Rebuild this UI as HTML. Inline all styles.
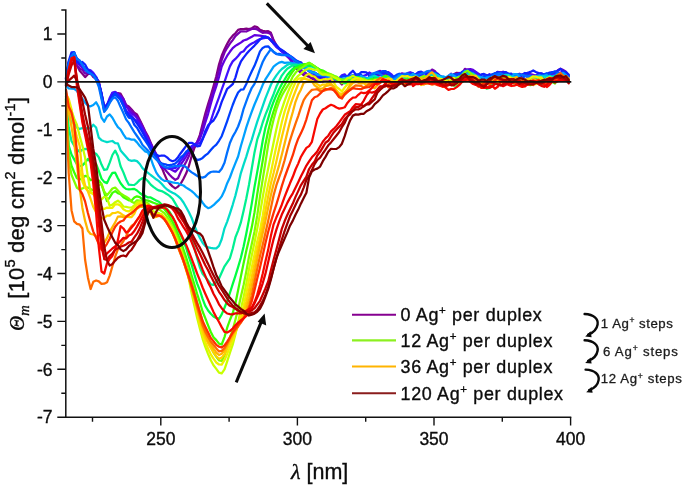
<!DOCTYPE html>
<html><head><meta charset="utf-8"><title>CD spectra</title>
<style>
html,body{margin:0;padding:0;background:#fff;}
body{width:685px;height:487px;overflow:hidden;}
svg{display:block;filter:blur(0.6px);}
text{font-family:"Liberation Sans",Arial,sans-serif;fill:#0c0c0c;stroke:#0c0c0c;stroke-width:0.35px;}
.tk text{font-size:17.5px;}
.cv path{fill:none;stroke-width:2.25;stroke-linejoin:round;stroke-linecap:round;}
.lg text{font-size:17.9px;letter-spacing:0.68px;}
.st text{font-size:13.2px;fill:#1c1c1c;stroke:#1c1c1c;stroke-width:0.3px;}
.ser{font-family:"Liberation Serif","DejaVu Serif",serif;font-style:italic;}
</style></head><body>
<svg width="685" height="487" viewBox="0 0 685 487">
<rect width="685" height="487" fill="#fff"/>
<g class="cv">
<path d="M66.0 79.9 L68.7 67.4 L71.5 60.8 L74.2 59.5 L76.9 65.3 L79.7 70.8 L82.4 73.8 L85.1 77.1 L87.9 74.3 L90.6 73.3 L93.3 77.0 L96.1 78.8 L98.8 81.4 L101.5 94.2 L104.2 106.0 L107.0 105.5 L109.7 101.8 L112.4 95.7 L115.2 93.8 L117.9 93.2 L120.6 93.7 L123.4 98.8 L126.1 104.9 L128.8 106.4 L131.6 109.4 L134.3 112.7 L137.0 114.4 L139.8 119.9 L142.5 125.6 L145.2 131.3 L148.0 136.3 L150.7 142.6 L153.4 149.1 L156.2 154.8 L158.9 160.5 L161.6 167.1 L164.4 174.1 L167.1 180.1 L169.8 183.6 L172.5 186.4 L175.3 188.4 L178.0 186.6 L180.7 183.7 L183.5 178.7 L186.2 173.3 L188.9 165.9 L191.7 156.0 L194.4 148.0 L197.1 142.4 L199.9 134.8 L202.6 124.0 L205.3 113.6 L208.1 104.1 L210.8 95.5 L213.5 86.3 L216.3 76.3 L219.0 64.6 L221.7 55.8 L224.5 49.3 L227.2 43.8 L229.9 39.1 L232.7 35.7 L235.4 33.3 L238.1 29.9 L240.8 29.1 L243.6 29.0 L246.3 28.6 L249.0 29.1 L251.8 28.2 L254.5 26.4 L257.2 27.1 L260.0 29.7 L262.7 30.8 L265.4 31.3 L268.2 31.1 L270.9 32.8 L273.6 40.1 L276.4 45.1 L279.1 48.6 L281.8 50.8 L284.6 52.0 L287.3 55.1 L290.0 58.7 L292.8 63.5 L295.5 67.7 L298.2 70.1 L301.0 73.0 L303.7 75.1 L306.4 75.9 L309.1 76.8 L311.9 78.5 L314.6 79.9 L317.3 81.1 L320.1 81.7 L322.8 81.2 L325.5 81.0 L328.3 80.9 L331.0 80.2 L333.7 79.2 L336.5 79.3 L339.2 81.3 L341.9 84.5 L344.7 81.1 L347.4 78.4 L350.1 76.3 L352.9 75.5 L355.6 75.1 L358.3 75.5 L361.1 79.7 L363.8 81.4 L366.5 79.9 L369.3 78.6 L372.0 78.5 L374.7 77.4 L377.4 76.3 L380.2 74.0 L382.9 73.3 L385.6 74.0 L388.4 75.5 L391.1 77.2 L393.8 79.5 L396.6 82.3 L399.3 78.2 L402.0 75.4 L404.8 74.3 L407.5 75.2 L410.2 75.5 L413.0 75.3 L415.7 75.9 L418.4 75.6 L421.2 75.9 L423.9 76.8 L426.6 76.7 L429.4 77.0 L432.1 75.8 L434.8 76.9 L437.6 78.5 L440.3 77.4 L443.0 78.4 L445.7 79.9 L448.5 78.5 L451.2 76.2 L453.9 74.3 L456.7 72.8 L459.4 73.0 L462.1 73.9 L464.9 73.1 L467.6 71.0 L470.3 70.1 L473.1 71.3 L475.8 75.1 L478.5 76.2 L481.3 77.1 L484.0 80.5 L486.7 80.5 L489.5 79.1 L492.2 77.2 L494.9 74.5 L497.7 72.0 L500.4 72.4 L503.1 73.4 L505.9 75.4 L508.6 78.7 L511.3 78.7 L514.0 76.8 L516.8 78.7 L519.5 77.7 L522.2 75.1 L525.0 75.6 L527.7 76.9 L530.4 79.1 L533.2 79.1 L535.9 78.7 L538.6 76.9 L541.4 77.3 L544.1 78.8 L546.8 79.5 L549.6 78.2 L552.3 76.8 L555.0 74.8 L557.8 73.2 L560.5 75.8 L563.2 76.1 L566.0 78.3 L568.7 75.6" stroke="#800080"/>
<path d="M66.0 78.9 L68.7 65.5 L71.5 58.3 L74.2 57.0 L76.9 65.8 L79.7 68.6 L82.4 69.9 L85.1 73.7 L87.9 72.9 L90.6 72.9 L93.3 74.7 L96.1 79.5 L98.8 83.8 L101.5 94.1 L104.2 108.5 L107.0 106.8 L109.7 100.5 L112.4 94.9 L115.2 93.5 L117.9 93.9 L120.6 96.2 L123.4 101.5 L126.1 106.7 L128.8 107.7 L131.6 110.5 L134.3 113.8 L137.0 116.8 L139.8 121.0 L142.5 126.5 L145.2 132.2 L148.0 138.0 L150.7 143.6 L153.4 148.8 L156.2 154.0 L158.9 160.3 L161.6 164.8 L164.4 168.8 L167.1 172.0 L169.8 175.0 L172.5 177.7 L175.3 179.9 L178.0 178.2 L180.7 172.0 L183.5 166.6 L186.2 161.8 L188.9 156.1 L191.7 149.4 L194.4 145.6 L197.1 142.1 L199.9 137.1 L202.6 127.4 L205.3 117.3 L208.1 107.5 L210.8 98.1 L213.5 90.0 L216.3 80.6 L219.0 70.3 L221.7 60.0 L224.5 52.5 L227.2 47.8 L229.9 43.6 L232.7 40.1 L235.4 36.2 L238.1 33.7 L240.8 31.4 L243.6 31.3 L246.3 31.5 L249.0 30.3 L251.8 29.0 L254.5 28.6 L257.2 29.4 L260.0 31.3 L262.7 32.8 L265.4 32.5 L268.2 32.8 L270.9 34.2 L273.6 41.4 L276.4 46.2 L279.1 48.9 L281.8 51.2 L284.6 53.3 L287.3 56.5 L290.0 59.1 L292.8 63.9 L295.5 66.8 L298.2 69.7 L301.0 72.8 L303.7 74.0 L306.4 74.4 L309.1 75.1 L311.9 77.1 L314.6 79.2 L317.3 78.9 L320.1 79.3 L322.8 81.5 L325.5 80.1 L328.3 79.6 L331.0 79.3 L333.7 79.6 L336.5 79.1 L339.2 79.4 L341.9 79.4 L344.7 80.8 L347.4 80.2 L350.1 77.8 L352.9 78.4 L355.6 76.5 L358.3 75.7 L361.1 79.5 L363.8 82.0 L366.5 80.7 L369.3 76.7 L372.0 74.6 L374.7 75.1 L377.4 75.4 L380.2 74.8 L382.9 75.0 L385.6 75.4 L388.4 76.6 L391.1 80.5 L393.8 80.9 L396.6 78.0 L399.3 75.5 L402.0 75.7 L404.8 76.4 L407.5 75.4 L410.2 73.3 L413.0 74.5 L415.7 76.9 L418.4 76.8 L421.2 75.7 L423.9 76.3 L426.6 75.8 L429.4 72.4 L432.1 69.6 L434.8 71.0 L437.6 74.6 L440.3 79.9 L443.0 81.3 L445.7 80.3 L448.5 78.6 L451.2 76.4 L453.9 76.6 L456.7 78.7 L459.4 78.4 L462.1 73.3 L464.9 68.8 L467.6 70.0 L470.3 74.8 L473.1 75.2 L475.8 76.3 L478.5 80.3 L481.3 80.4 L484.0 79.8 L486.7 78.5 L489.5 78.4 L492.2 79.1 L494.9 80.4 L497.7 77.3 L500.4 73.7 L503.1 71.6 L505.9 73.4 L508.6 74.8 L511.3 76.6 L514.0 80.1 L516.8 78.5 L519.5 75.8 L522.2 74.8 L525.0 73.4 L527.7 73.6 L530.4 75.5 L533.2 75.6 L535.9 76.3 L538.6 77.6 L541.4 76.7 L544.1 75.3 L546.8 76.5 L549.6 77.0 L552.3 74.2 L555.0 72.7 L557.8 70.3 L560.5 68.7 L563.2 70.1 L566.0 71.7 L568.7 76.5" stroke="#7800b0"/>
<path d="M66.0 78.4 L68.7 63.1 L71.5 56.1 L74.2 54.4 L76.9 60.6 L79.7 65.4 L82.4 67.7 L85.1 70.2 L87.9 70.7 L90.6 72.2 L93.3 76.0 L96.1 77.2 L98.8 82.4 L101.5 93.8 L104.2 109.6 L107.0 104.6 L109.7 99.9 L112.4 93.2 L115.2 91.8 L117.9 93.8 L120.6 95.9 L123.4 99.1 L126.1 105.6 L128.8 109.9 L131.6 113.2 L134.3 115.0 L137.0 117.9 L139.8 122.5 L142.5 127.1 L145.2 133.3 L148.0 138.5 L150.7 144.4 L153.4 150.2 L156.2 155.6 L158.9 162.6 L161.6 167.6 L164.4 168.2 L167.1 168.1 L169.8 168.7 L172.5 170.2 L175.3 171.7 L178.0 168.8 L180.7 164.6 L183.5 160.7 L186.2 156.5 L188.9 151.8 L191.7 147.7 L194.4 144.6 L197.1 142.9 L199.9 138.9 L202.6 131.3 L205.3 122.5 L208.1 113.8 L210.8 103.6 L213.5 94.4 L216.3 86.1 L219.0 77.0 L221.7 66.5 L224.5 60.5 L227.2 55.7 L229.9 51.8 L232.7 48.1 L235.4 45.9 L238.1 44.2 L240.8 42.6 L243.6 40.5 L246.3 39.7 L249.0 38.3 L251.8 36.8 L254.5 35.1 L257.2 35.3 L260.0 35.7 L262.7 36.2 L265.4 36.7 L268.2 37.5 L270.9 40.6 L273.6 43.5 L276.4 46.3 L279.1 48.7 L281.8 51.2 L284.6 53.3 L287.3 56.4 L290.0 58.6 L292.8 62.6 L295.5 65.0 L298.2 68.0 L301.0 69.9 L303.7 71.4 L306.4 73.7 L309.1 74.7 L311.9 75.3 L314.6 75.7 L317.3 77.6 L320.1 79.8 L322.8 80.4 L325.5 78.6 L328.3 78.3 L331.0 78.9 L333.7 77.9 L336.5 77.4 L339.2 79.4 L341.9 82.3 L344.7 80.6 L347.4 77.8 L350.1 77.5 L352.9 76.9 L355.6 77.6 L358.3 76.7 L361.1 78.4 L363.8 79.6 L366.5 78.5 L369.3 77.5 L372.0 75.9 L374.7 74.4 L377.4 71.7 L380.2 70.8 L382.9 72.9 L385.6 72.9 L388.4 74.0 L391.1 77.4 L393.8 77.4 L396.6 76.3 L399.3 74.5 L402.0 73.4 L404.8 74.1 L407.5 74.8 L410.2 76.4 L413.0 76.0 L415.7 74.0 L418.4 73.0 L421.2 74.2 L423.9 77.1 L426.6 76.2 L429.4 72.9 L432.1 71.3 L434.8 72.5 L437.6 76.4 L440.3 80.0 L443.0 79.9 L445.7 79.9 L448.5 75.8 L451.2 73.7 L453.9 76.7 L456.7 74.6 L459.4 73.0 L462.1 74.0 L464.9 72.5 L467.6 69.3 L470.3 69.1 L473.1 69.9 L475.8 71.8 L478.5 73.7 L481.3 75.9 L484.0 78.5 L486.7 78.8 L489.5 77.6 L492.2 76.1 L494.9 75.1 L497.7 71.8 L500.4 72.7 L503.1 72.5 L505.9 72.4 L508.6 74.5 L511.3 76.1 L514.0 75.0 L516.8 74.6 L519.5 73.7 L522.2 74.9 L525.0 74.1 L527.7 72.8 L530.4 74.1 L533.2 74.9 L535.9 75.9 L538.6 77.6 L541.4 76.1 L544.1 74.3 L546.8 74.3 L549.6 74.6 L552.3 75.0 L555.0 74.2 L557.8 73.3 L560.5 73.1 L563.2 75.1 L566.0 76.8 L568.7 78.6" stroke="#6000e0"/>
<path d="M66.0 79.0 L68.7 62.3 L71.5 56.1 L74.2 53.0 L76.9 60.0 L79.7 63.5 L82.4 66.3 L85.1 68.0 L87.9 69.5 L90.6 70.3 L93.3 72.8 L96.1 76.8 L98.8 82.7 L101.5 95.4 L104.2 108.7 L107.0 105.4 L109.7 98.0 L112.4 92.6 L115.2 92.2 L117.9 94.3 L120.6 97.5 L123.4 104.0 L126.1 110.5 L128.8 112.8 L131.6 115.7 L134.3 119.1 L137.0 120.7 L139.8 124.7 L142.5 129.2 L145.2 134.3 L148.0 139.4 L150.7 145.0 L153.4 149.9 L156.2 156.0 L158.9 161.7 L161.6 164.5 L164.4 166.9 L167.1 167.9 L169.8 168.9 L172.5 168.0 L175.3 168.2 L178.0 165.0 L180.7 160.7 L183.5 157.2 L186.2 153.0 L188.9 148.7 L191.7 146.1 L194.4 144.9 L197.1 144.2 L199.9 143.0 L202.6 139.0 L205.3 133.5 L208.1 127.4 L210.8 120.9 L213.5 112.5 L216.3 104.6 L219.0 97.3 L221.7 89.5 L224.5 81.9 L227.2 73.8 L229.9 66.4 L232.7 61.4 L235.4 58.9 L238.1 56.0 L240.8 52.5 L243.6 51.2 L246.3 47.6 L249.0 45.3 L251.8 43.5 L254.5 42.2 L257.2 40.5 L260.0 39.1 L262.7 38.4 L265.4 37.9 L268.2 38.0 L270.9 39.6 L273.6 43.7 L276.4 47.0 L279.1 49.0 L281.8 51.6 L284.6 53.8 L287.3 56.0 L290.0 57.4 L292.8 59.6 L295.5 62.0 L298.2 63.8 L301.0 66.4 L303.7 67.5 L306.4 69.2 L309.1 71.4 L311.9 73.0 L314.6 74.3 L317.3 77.0 L320.1 78.1 L322.8 77.8 L325.5 76.4 L328.3 75.7 L331.0 78.6 L333.7 78.4 L336.5 78.7 L339.2 78.2 L341.9 75.4 L344.7 74.3 L347.4 77.4 L350.1 77.8 L352.9 78.7 L355.6 77.8 L358.3 77.4 L361.1 77.1 L363.8 75.8 L366.5 74.9 L369.3 72.5 L372.0 73.9 L374.7 74.2 L377.4 73.0 L380.2 72.8 L382.9 73.3 L385.6 72.3 L388.4 72.2 L391.1 74.1 L393.8 77.1 L396.6 77.9 L399.3 76.6 L402.0 75.4 L404.8 74.9 L407.5 73.1 L410.2 72.2 L413.0 73.4 L415.7 75.8 L418.4 75.8 L421.2 75.5 L423.9 72.9 L426.6 73.3 L429.4 71.6 L432.1 73.7 L434.8 76.2 L437.6 75.7 L440.3 76.0 L443.0 78.9 L445.7 79.6 L448.5 78.4 L451.2 77.2 L453.9 77.9 L456.7 78.7 L459.4 76.6 L462.1 73.6 L464.9 72.1 L467.6 72.2 L470.3 71.4 L473.1 71.1 L475.8 72.1 L478.5 75.1 L481.3 78.7 L484.0 78.2 L486.7 77.3 L489.5 74.1 L492.2 76.2 L494.9 76.1 L497.7 74.9 L500.4 72.5 L503.1 75.6 L505.9 77.0 L508.6 76.3 L511.3 76.7 L514.0 78.7 L516.8 75.2 L519.5 76.0 L522.2 78.4 L525.0 79.2 L527.7 78.9 L530.4 77.4 L533.2 76.7 L535.9 75.5 L538.6 73.5 L541.4 73.3 L544.1 74.8 L546.8 74.9 L549.6 76.4 L552.3 77.4 L555.0 74.7 L557.8 73.8 L560.5 72.5 L563.2 71.5 L566.0 73.3 L568.7 75.5" stroke="#4010ff"/>
<path d="M66.0 78.1 L68.7 61.0 L71.5 52.3 L74.2 52.1 L76.9 61.8 L79.7 63.8 L82.4 62.0 L85.1 64.5 L87.9 69.8 L90.6 72.2 L93.3 74.8 L96.1 78.3 L98.8 83.5 L101.5 93.1 L104.2 106.6 L107.0 105.0 L109.7 100.8 L112.4 95.8 L115.2 93.1 L117.9 96.7 L120.6 99.7 L123.4 105.4 L126.1 112.0 L128.8 115.5 L131.6 117.4 L134.3 119.7 L137.0 123.5 L139.8 127.7 L142.5 132.2 L145.2 137.3 L148.0 142.4 L150.7 147.9 L153.4 152.0 L156.2 154.6 L158.9 156.1 L161.6 155.5 L164.4 155.6 L167.1 157.4 L169.8 160.0 L172.5 161.2 L175.3 160.3 L178.0 157.2 L180.7 153.2 L183.5 149.5 L186.2 145.8 L188.9 142.9 L191.7 142.8 L194.4 144.3 L197.1 146.3 L199.9 145.8 L202.6 139.3 L205.3 130.9 L208.1 125.4 L210.8 122.6 L213.5 120.5 L216.3 115.8 L219.0 110.0 L221.7 101.9 L224.5 95.2 L227.2 88.8 L229.9 86.7 L232.7 84.2 L235.4 77.6 L238.1 68.3 L240.8 61.7 L243.6 57.6 L246.3 54.1 L249.0 51.0 L251.8 48.2 L254.5 45.6 L257.2 42.7 L260.0 39.5 L262.7 37.3 L265.4 36.7 L268.2 37.5 L270.9 40.3 L273.6 42.7 L276.4 44.9 L279.1 48.3 L281.8 49.9 L284.6 52.0 L287.3 53.9 L290.0 55.8 L292.8 57.7 L295.5 59.9 L298.2 61.7 L301.0 62.3 L303.7 65.9 L306.4 68.6 L309.1 71.1 L311.9 73.0 L314.6 72.5 L317.3 74.1 L320.1 77.1 L322.8 76.0 L325.5 75.3 L328.3 75.3 L331.0 77.5 L333.7 77.3 L336.5 78.1 L339.2 78.9 L341.9 79.4 L344.7 80.0 L347.4 76.7 L350.1 73.3 L352.9 70.8 L355.6 74.1 L358.3 75.1 L361.1 72.2 L363.8 72.2 L366.5 72.4 L369.3 75.5 L372.0 75.9 L374.7 75.5 L377.4 73.6 L380.2 72.1 L382.9 72.9 L385.6 72.7 L388.4 72.8 L391.1 78.5 L393.8 82.8 L396.6 80.3 L399.3 75.1 L402.0 75.1 L404.8 76.0 L407.5 74.4 L410.2 75.6 L413.0 74.9 L415.7 74.7 L418.4 72.0 L421.2 71.7 L423.9 73.3 L426.6 74.3 L429.4 75.5 L432.1 74.5 L434.8 72.8 L437.6 73.6 L440.3 76.0 L443.0 77.4 L445.7 80.0 L448.5 80.1 L451.2 78.1 L453.9 76.6 L456.7 74.9 L459.4 74.4 L462.1 71.8 L464.9 70.8 L467.6 70.6 L470.3 71.1 L473.1 73.8 L475.8 76.7 L478.5 77.6 L481.3 74.4 L484.0 73.9 L486.7 75.2 L489.5 75.3 L492.2 75.9 L494.9 73.4 L497.7 72.2 L500.4 73.1 L503.1 72.1 L505.9 72.1 L508.6 73.8 L511.3 73.6 L514.0 76.2 L516.8 77.0 L519.5 76.0 L522.2 74.8 L525.0 73.0 L527.7 73.1 L530.4 71.9 L533.2 70.5 L535.9 72.0 L538.6 73.1 L541.4 73.6 L544.1 74.8 L546.8 74.2 L549.6 72.5 L552.3 72.2 L555.0 72.6 L557.8 70.7 L560.5 68.8 L563.2 71.3 L566.0 72.1 L568.7 74.5" stroke="#1020ff"/>
<path d="M66.0 77.3 L68.7 63.6 L71.5 57.1 L74.2 52.9 L76.9 58.2 L79.7 60.8 L82.4 64.3 L85.1 70.0 L87.9 72.5 L90.6 73.9 L93.3 75.2 L96.1 77.9 L98.8 83.6 L101.5 96.3 L104.2 111.3 L107.0 107.4 L109.7 102.1 L112.4 97.5 L115.2 93.5 L117.9 96.7 L120.6 99.8 L123.4 105.7 L126.1 113.5 L128.8 117.6 L131.6 118.4 L134.3 124.8 L137.0 127.8 L139.8 132.6 L142.5 136.8 L145.2 140.6 L148.0 144.8 L150.7 149.8 L153.4 153.5 L156.2 157.3 L158.9 161.8 L161.6 163.2 L164.4 164.2 L167.1 164.9 L169.8 165.1 L172.5 164.6 L175.3 163.5 L178.0 161.0 L180.7 157.4 L183.5 155.2 L186.2 151.6 L188.9 150.3 L191.7 151.4 L194.4 157.1 L197.1 160.2 L199.9 159.4 L202.6 157.9 L205.3 155.4 L208.1 153.3 L210.8 150.1 L213.5 147.0 L216.3 144.7 L219.0 140.8 L221.7 136.2 L224.5 128.7 L227.2 121.1 L229.9 113.0 L232.7 105.0 L235.4 98.2 L238.1 92.5 L240.8 89.7 L243.6 89.3 L246.3 84.0 L249.0 77.4 L251.8 71.3 L254.5 65.8 L257.2 59.0 L260.0 51.4 L262.7 47.9 L265.4 46.6 L268.2 46.3 L270.9 49.2 L273.6 52.1 L276.4 54.1 L279.1 53.9 L281.8 54.5 L284.6 54.8 L287.3 54.3 L290.0 55.9 L292.8 58.4 L295.5 60.4 L298.2 61.6 L301.0 63.6 L303.7 65.4 L306.4 69.0 L309.1 70.7 L311.9 71.5 L314.6 73.2 L317.3 74.4 L320.1 75.1 L322.8 74.9 L325.5 74.7 L328.3 75.9 L331.0 75.8 L333.7 76.9 L336.5 77.7 L339.2 78.6 L341.9 76.6 L344.7 76.1 L347.4 77.3 L350.1 77.9 L352.9 77.4 L355.6 76.5 L358.3 74.2 L361.1 74.6 L363.8 77.9 L366.5 79.3 L369.3 77.1 L372.0 74.7 L374.7 72.9 L377.4 72.4 L380.2 72.4 L382.9 71.0 L385.6 71.0 L388.4 73.7 L391.1 76.1 L393.8 76.8 L396.6 74.9 L399.3 73.7 L402.0 74.7 L404.8 75.8 L407.5 74.6 L410.2 74.2 L413.0 73.5 L415.7 76.4 L418.4 78.2 L421.2 78.0 L423.9 76.7 L426.6 75.9 L429.4 73.5 L432.1 73.4 L434.8 73.0 L437.6 76.0 L440.3 76.9 L443.0 78.2 L445.7 77.7 L448.5 77.7 L451.2 76.9 L453.9 74.4 L456.7 74.4 L459.4 73.9 L462.1 72.5 L464.9 71.9 L467.6 72.7 L470.3 73.6 L473.1 74.7 L475.8 76.2 L478.5 76.5 L481.3 77.2 L484.0 75.9 L486.7 76.9 L489.5 76.2 L492.2 74.2 L494.9 73.3 L497.7 72.6 L500.4 74.7 L503.1 74.6 L505.9 74.1 L508.6 74.2 L511.3 74.8 L514.0 76.1 L516.8 77.7 L519.5 78.8 L522.2 78.2 L525.0 76.0 L527.7 75.2 L530.4 77.0 L533.2 76.5 L535.9 75.8 L538.6 76.4 L541.4 75.2 L544.1 74.4 L546.8 73.2 L549.6 74.4 L552.3 72.5 L555.0 71.2 L557.8 72.6 L560.5 73.4 L563.2 73.5 L566.0 74.6 L568.7 78.8" stroke="#0040ff"/>
<path d="M66.0 79.2 L68.7 64.0 L71.5 55.8 L74.2 52.7 L76.9 59.1 L79.7 60.5 L82.4 65.1 L85.1 69.0 L87.9 71.9 L90.6 73.5 L93.3 75.4 L96.1 79.8 L98.8 86.8 L101.5 98.9 L104.2 111.8 L107.0 108.2 L109.7 102.9 L112.4 98.8 L115.2 97.2 L117.9 100.9 L120.6 107.1 L123.4 113.1 L126.1 119.4 L128.8 122.9 L131.6 127.7 L134.3 132.1 L137.0 136.0 L139.8 140.0 L142.5 145.0 L145.2 147.7 L148.0 150.6 L150.7 154.0 L153.4 156.8 L156.2 159.4 L158.9 162.2 L161.6 164.6 L164.4 166.8 L167.1 167.6 L169.8 167.0 L172.5 166.7 L175.3 165.8 L178.0 166.3 L180.7 165.6 L183.5 165.6 L186.2 167.2 L188.9 170.2 L191.7 172.4 L194.4 174.0 L197.1 175.9 L199.9 177.2 L202.6 177.6 L205.3 176.6 L208.1 173.7 L210.8 172.0 L213.5 171.5 L216.3 171.7 L219.0 172.0 L221.7 168.7 L224.5 162.7 L227.2 152.4 L229.9 143.0 L232.7 136.6 L235.4 132.0 L238.1 126.5 L240.8 119.1 L243.6 108.8 L246.3 101.3 L249.0 94.2 L251.8 87.8 L254.5 83.9 L257.2 77.2 L260.0 69.1 L262.7 62.0 L265.4 56.9 L268.2 52.9 L270.9 49.2 L273.6 51.6 L276.4 53.7 L279.1 54.7 L281.8 55.2 L284.6 55.2 L287.3 55.3 L290.0 56.2 L292.8 58.6 L295.5 61.0 L298.2 62.4 L301.0 64.4 L303.7 66.4 L306.4 67.9 L309.1 70.1 L311.9 72.2 L314.6 73.0 L317.3 74.5 L320.1 75.3 L322.8 75.7 L325.5 76.2 L328.3 76.9 L331.0 76.2 L333.7 76.7 L336.5 78.0 L339.2 79.0 L341.9 78.5 L344.7 78.9 L347.4 77.4 L350.1 76.0 L352.9 75.0 L355.6 77.5 L358.3 80.2 L361.1 80.6 L363.8 80.5 L366.5 79.9 L369.3 77.6 L372.0 73.8 L374.7 73.0 L377.4 72.6 L380.2 74.2 L382.9 75.9 L385.6 75.9 L388.4 76.7 L391.1 78.9 L393.8 78.9 L396.6 77.0 L399.3 74.6 L402.0 75.1 L404.8 73.9 L407.5 73.4 L410.2 75.0 L413.0 76.3 L415.7 75.3 L418.4 74.7 L421.2 73.7 L423.9 73.2 L426.6 71.3 L429.4 70.8 L432.1 73.0 L434.8 73.1 L437.6 76.2 L440.3 76.4 L443.0 77.8 L445.7 79.6 L448.5 79.0 L451.2 77.4 L453.9 77.4 L456.7 78.8 L459.4 78.8 L462.1 77.8 L464.9 76.6 L467.6 74.5 L470.3 72.1 L473.1 73.4 L475.8 75.0 L478.5 76.1 L481.3 77.2 L484.0 79.6 L486.7 77.2 L489.5 77.7 L492.2 75.9 L494.9 74.5 L497.7 74.3 L500.4 73.2 L503.1 74.8 L505.9 77.0 L508.6 75.8 L511.3 77.3 L514.0 77.8 L516.8 74.4 L519.5 74.4 L522.2 74.9 L525.0 75.7 L527.7 76.8 L530.4 75.6 L533.2 76.8 L535.9 81.0 L538.6 81.6 L541.4 80.2 L544.1 79.5 L546.8 77.7 L549.6 77.8 L552.3 76.2 L555.0 75.4 L557.8 73.2 L560.5 74.1 L563.2 76.0 L566.0 77.1 L568.7 76.4" stroke="#0070ff"/>
<path d="M66.0 85.6 L68.7 88.5 L71.5 88.6 L74.2 88.8 L76.9 90.9 L79.7 95.4 L82.4 98.6 L85.1 102.8 L87.9 105.8 L90.6 106.3 L93.3 105.0 L96.1 102.2 L98.8 107.0 L101.5 117.6 L104.2 121.7 L107.0 116.5 L109.7 114.4 L112.4 117.8 L115.2 122.8 L117.9 127.2 L120.6 129.5 L123.4 134.4 L126.1 138.4 L128.8 138.6 L131.6 139.7 L134.3 139.6 L137.0 142.4 L139.8 146.0 L142.5 148.7 L145.2 151.4 L148.0 152.5 L150.7 158.2 L153.4 165.8 L156.2 172.4 L158.9 176.3 L161.6 179.1 L164.4 180.9 L167.1 181.0 L169.8 181.7 L172.5 182.4 L175.3 182.8 L178.0 183.1 L180.7 184.7 L183.5 185.5 L186.2 187.6 L188.9 189.3 L191.7 191.1 L194.4 193.5 L197.1 196.4 L199.9 198.5 L202.6 202.6 L205.3 206.2 L208.1 208.2 L210.8 207.2 L213.5 205.2 L216.3 202.4 L219.0 199.9 L221.7 196.4 L224.5 190.6 L227.2 183.2 L229.9 177.5 L232.7 169.9 L235.4 163.1 L238.1 156.5 L240.8 146.2 L243.6 136.8 L246.3 127.4 L249.0 119.3 L251.8 111.6 L254.5 104.5 L257.2 98.3 L260.0 91.6 L262.7 84.8 L265.4 79.4 L268.2 75.1 L270.9 70.8 L273.6 66.6 L276.4 64.4 L279.1 62.6 L281.8 61.9 L284.6 62.9 L287.3 62.6 L290.0 62.6 L292.8 63.0 L295.5 63.7 L298.2 65.1 L301.0 67.0 L303.7 68.0 L306.4 69.6 L309.1 70.8 L311.9 72.4 L314.6 72.6 L317.3 74.6 L320.1 74.9 L322.8 74.6 L325.5 74.7 L328.3 76.7 L331.0 78.1 L333.7 79.0 L336.5 79.4 L339.2 79.5 L341.9 79.3 L344.7 79.3 L347.4 79.6 L350.1 80.0 L352.9 77.7 L355.6 77.2 L358.3 78.7 L361.1 76.0 L363.8 77.2 L366.5 77.8 L369.3 78.7 L372.0 76.5 L374.7 76.0 L377.4 76.8 L380.2 77.7 L382.9 76.8 L385.6 76.2 L388.4 76.7 L391.1 78.7 L393.8 80.3 L396.6 78.5 L399.3 75.9 L402.0 75.5 L404.8 78.4 L407.5 79.3 L410.2 76.8 L413.0 73.8 L415.7 75.3 L418.4 77.6 L421.2 77.0 L423.9 77.2 L426.6 76.3 L429.4 75.2 L432.1 76.1 L434.8 74.1 L437.6 75.3 L440.3 77.1 L443.0 76.3 L445.7 77.4 L448.5 75.8 L451.2 74.3 L453.9 75.6 L456.7 77.3 L459.4 77.3 L462.1 74.4 L464.9 71.0 L467.6 70.8 L470.3 76.2 L473.1 80.6 L475.8 79.2 L478.5 77.3 L481.3 77.0 L484.0 78.3 L486.7 77.9 L489.5 77.2 L492.2 78.4 L494.9 77.8 L497.7 76.7 L500.4 76.1 L503.1 76.6 L505.9 77.4 L508.6 80.0 L511.3 78.8 L514.0 74.0 L516.8 74.2 L519.5 76.9 L522.2 80.0 L525.0 80.8 L527.7 79.7 L530.4 79.2 L533.2 79.4 L535.9 76.4 L538.6 75.6 L541.4 75.8 L544.1 75.8 L546.8 74.9 L549.6 78.0 L552.3 80.2 L555.0 78.3 L557.8 75.5 L560.5 73.7 L563.2 72.9 L566.0 75.2 L568.7 78.6" stroke="#00a0ff"/>
<path d="M66.0 90.9 L68.7 114.6 L71.5 121.6 L74.2 124.0 L76.9 127.5 L79.7 128.9 L82.4 128.2 L85.1 127.9 L87.9 128.7 L90.6 128.0 L93.3 124.7 L96.1 127.5 L98.8 137.7 L101.5 140.2 L104.2 141.2 L107.0 142.1 L109.7 141.5 L112.4 141.0 L115.2 143.2 L117.9 143.3 L120.6 150.4 L123.4 153.7 L126.1 156.8 L128.8 160.0 L131.6 160.9 L134.3 160.3 L137.0 161.1 L139.8 164.0 L142.5 168.2 L145.2 170.7 L148.0 172.8 L150.7 175.0 L153.4 177.1 L156.2 179.3 L158.9 181.1 L161.6 183.7 L164.4 187.0 L167.1 189.5 L169.8 191.3 L172.5 192.8 L175.3 194.1 L178.0 196.2 L180.7 198.6 L183.5 202.5 L186.2 207.3 L188.9 212.2 L191.7 218.0 L194.4 225.6 L197.1 232.0 L199.9 238.0 L202.6 242.7 L205.3 246.1 L208.1 247.4 L210.8 247.9 L213.5 248.3 L216.3 248.4 L219.0 245.9 L221.7 239.3 L224.5 228.3 L227.2 221.6 L229.9 213.6 L232.7 204.8 L235.4 195.6 L238.1 184.9 L240.8 173.3 L243.6 164.6 L246.3 156.6 L249.0 147.6 L251.8 139.6 L254.5 130.5 L257.2 121.8 L260.0 113.9 L262.7 106.2 L265.4 98.4 L268.2 91.4 L270.9 84.8 L273.6 79.6 L276.4 75.4 L279.1 71.8 L281.8 69.0 L284.6 67.0 L287.3 64.9 L290.0 63.8 L292.8 64.9 L295.5 65.3 L298.2 65.6 L301.0 64.6 L303.7 65.5 L306.4 66.7 L309.1 66.4 L311.9 66.6 L314.6 68.0 L317.3 69.8 L320.1 70.3 L322.8 71.0 L325.5 72.9 L328.3 74.1 L331.0 75.9 L333.7 76.9 L336.5 79.0 L339.2 79.9 L341.9 79.6 L344.7 78.8 L347.4 77.8 L350.1 78.6 L352.9 79.8 L355.6 81.0 L358.3 79.9 L361.1 78.0 L363.8 80.2 L366.5 79.7 L369.3 77.7 L372.0 77.1 L374.7 75.6 L377.4 77.4 L380.2 79.7 L382.9 79.5 L385.6 78.2 L388.4 78.3 L391.1 80.1 L393.8 83.5 L396.6 83.5 L399.3 82.8 L402.0 78.1 L404.8 79.6 L407.5 81.2 L410.2 80.7 L413.0 80.0 L415.7 79.3 L418.4 78.7 L421.2 78.8 L423.9 77.8 L426.6 78.0 L429.4 76.2 L432.1 74.4 L434.8 74.6 L437.6 75.6 L440.3 76.9 L443.0 79.8 L445.7 79.7 L448.5 81.3 L451.2 81.4 L453.9 80.3 L456.7 79.8 L459.4 79.1 L462.1 77.6 L464.9 75.9 L467.6 74.3 L470.3 73.8 L473.1 73.6 L475.8 76.2 L478.5 76.9 L481.3 80.9 L484.0 83.7 L486.7 82.1 L489.5 81.6 L492.2 80.9 L494.9 80.7 L497.7 78.5 L500.4 77.3 L503.1 76.1 L505.9 74.9 L508.6 75.2 L511.3 76.6 L514.0 77.3 L516.8 77.2 L519.5 79.6 L522.2 80.8 L525.0 82.2 L527.7 81.3 L530.4 79.2 L533.2 77.7 L535.9 78.2 L538.6 76.3 L541.4 76.5 L544.1 76.5 L546.8 77.2 L549.6 75.9 L552.3 76.8 L555.0 76.1 L557.8 75.1 L560.5 74.0 L563.2 76.0 L566.0 78.7 L568.7 79.4" stroke="#00dcc8"/>
<path d="M66.0 96.5 L68.7 127.6 L71.5 141.0 L74.2 145.6 L76.9 149.2 L79.7 151.9 L82.4 149.6 L85.1 148.8 L87.9 149.5 L90.6 151.9 L93.3 152.6 L96.1 153.7 L98.8 157.3 L101.5 164.6 L104.2 169.9 L107.0 169.4 L109.7 162.7 L112.4 155.0 L115.2 150.6 L117.9 156.0 L120.6 166.2 L123.4 172.4 L126.1 179.4 L128.8 184.7 L131.6 184.9 L134.3 185.0 L137.0 182.8 L139.8 179.9 L142.5 178.2 L145.2 178.5 L148.0 181.3 L150.7 184.6 L153.4 186.9 L156.2 188.9 L158.9 190.4 L161.6 191.1 L164.4 192.5 L167.1 194.2 L169.8 196.1 L172.5 198.7 L175.3 203.4 L178.0 208.0 L180.7 212.8 L183.5 218.7 L186.2 225.0 L188.9 232.0 L191.7 240.0 L194.4 247.8 L197.1 257.6 L199.9 267.4 L202.6 273.8 L205.3 277.1 L208.1 280.5 L210.8 284.3 L213.5 284.9 L216.3 282.0 L219.0 278.6 L221.7 272.5 L224.5 266.3 L227.2 262.3 L229.9 258.3 L232.7 248.8 L235.4 237.4 L238.1 230.6 L240.8 222.7 L243.6 210.7 L246.3 198.5 L249.0 184.8 L251.8 168.2 L254.5 152.4 L257.2 139.7 L260.0 131.6 L262.7 122.5 L265.4 114.9 L268.2 108.0 L270.9 100.7 L273.6 94.2 L276.4 86.6 L279.1 81.1 L281.8 75.6 L284.6 71.8 L287.3 68.7 L290.0 67.0 L292.8 65.2 L295.5 64.7 L298.2 64.9 L301.0 64.6 L303.7 65.4 L306.4 65.9 L309.1 65.2 L311.9 65.4 L314.6 66.9 L317.3 68.6 L320.1 70.2 L322.8 72.3 L325.5 73.9 L328.3 74.6 L331.0 75.1 L333.7 75.6 L336.5 77.8 L339.2 80.4 L341.9 81.6 L344.7 81.6 L347.4 80.5 L350.1 80.2 L352.9 79.2 L355.6 79.3 L358.3 79.0 L361.1 80.7 L363.8 81.3 L366.5 81.6 L369.3 80.3 L372.0 79.1 L374.7 80.5 L377.4 82.9 L380.2 82.3 L382.9 81.5 L385.6 80.3 L388.4 79.4 L391.1 80.8 L393.8 84.6 L396.6 84.5 L399.3 81.8 L402.0 79.4 L404.8 79.0 L407.5 78.0 L410.2 77.1 L413.0 79.0 L415.7 80.1 L418.4 81.6 L421.2 80.4 L423.9 80.9 L426.6 78.4 L429.4 77.1 L432.1 77.5 L434.8 78.0 L437.6 80.1 L440.3 81.1 L443.0 82.1 L445.7 82.4 L448.5 80.8 L451.2 82.8 L453.9 85.8 L456.7 85.3 L459.4 83.1 L462.1 80.1 L464.9 78.2 L467.6 76.5 L470.3 76.8 L473.1 77.0 L475.8 77.8 L478.5 79.5 L481.3 82.2 L484.0 81.0 L486.7 81.7 L489.5 81.6 L492.2 81.5 L494.9 79.7 L497.7 79.7 L500.4 80.5 L503.1 80.7 L505.9 82.2 L508.6 81.6 L511.3 79.1 L514.0 81.9 L516.8 84.2 L519.5 84.7 L522.2 83.5 L525.0 82.8 L527.7 81.7 L530.4 80.1 L533.2 79.3 L535.9 79.5 L538.6 83.7 L541.4 84.7 L544.1 84.8 L546.8 84.4 L549.6 83.5 L552.3 80.7 L555.0 79.3 L557.8 77.0 L560.5 78.0 L563.2 78.7 L566.0 79.1 L568.7 79.8" stroke="#00f090"/>
<path d="M66.0 98.7 L68.7 145.6 L71.5 154.5 L74.2 159.4 L76.9 164.1 L79.7 166.3 L82.4 165.4 L85.1 162.6 L87.9 159.0 L90.6 162.1 L93.3 163.1 L96.1 163.9 L98.8 170.8 L101.5 178.6 L104.2 181.9 L107.0 183.1 L109.7 177.3 L112.4 172.8 L115.2 172.7 L117.9 178.3 L120.6 183.3 L123.4 186.8 L126.1 189.0 L128.8 189.4 L131.6 189.2 L134.3 188.9 L137.0 190.5 L139.8 193.0 L142.5 195.0 L145.2 195.9 L148.0 197.4 L150.7 197.4 L153.4 198.9 L156.2 200.5 L158.9 201.7 L161.6 204.5 L164.4 206.7 L167.1 209.3 L169.8 212.3 L172.5 217.1 L175.3 222.6 L178.0 229.3 L180.7 235.2 L183.5 241.0 L186.2 248.2 L188.9 256.8 L191.7 264.9 L194.4 274.5 L197.1 283.3 L199.9 290.4 L202.6 298.9 L205.3 305.8 L208.1 310.5 L210.8 313.8 L213.5 316.5 L216.3 318.1 L219.0 318.8 L221.7 314.4 L224.5 307.7 L227.2 301.0 L229.9 293.0 L232.7 284.1 L235.4 275.9 L238.1 267.2 L240.8 258.0 L243.6 246.6 L246.3 233.6 L249.0 219.4 L251.8 203.4 L254.5 186.9 L257.2 172.1 L260.0 156.7 L262.7 140.8 L265.4 127.7 L268.2 118.4 L270.9 109.0 L273.6 101.7 L276.4 94.9 L279.1 89.2 L281.8 84.1 L284.6 79.6 L287.3 75.0 L290.0 71.7 L292.8 68.8 L295.5 67.0 L298.2 66.2 L301.0 65.1 L303.7 65.6 L306.4 64.6 L309.1 65.9 L311.9 65.1 L314.6 66.3 L317.3 68.1 L320.1 70.1 L322.8 72.5 L325.5 73.1 L328.3 74.5 L331.0 75.2 L333.7 76.5 L336.5 77.5 L339.2 79.5 L341.9 81.7 L344.7 83.4 L347.4 83.0 L350.1 81.9 L352.9 80.7 L355.6 77.5 L358.3 76.9 L361.1 79.3 L363.8 78.6 L366.5 80.5 L369.3 80.7 L372.0 80.7 L374.7 77.8 L377.4 78.3 L380.2 79.4 L382.9 78.1 L385.6 80.4 L388.4 82.0 L391.1 82.1 L393.8 83.9 L396.6 83.8 L399.3 81.1 L402.0 79.7 L404.8 82.1 L407.5 83.4 L410.2 80.3 L413.0 80.6 L415.7 81.7 L418.4 79.9 L421.2 80.0 L423.9 80.9 L426.6 82.4 L429.4 79.3 L432.1 81.8 L434.8 82.4 L437.6 82.1 L440.3 80.7 L443.0 82.9 L445.7 85.6 L448.5 84.9 L451.2 83.5 L453.9 82.7 L456.7 82.6 L459.4 81.5 L462.1 81.7 L464.9 80.8 L467.6 77.8 L470.3 78.8 L473.1 79.8 L475.8 82.7 L478.5 86.4 L481.3 84.5 L484.0 85.7 L486.7 88.7 L489.5 87.9 L492.2 85.2 L494.9 82.1 L497.7 81.0 L500.4 82.1 L503.1 80.9 L505.9 80.5 L508.6 81.5 L511.3 81.5 L514.0 81.9 L516.8 82.6 L519.5 80.3 L522.2 81.6 L525.0 81.3 L527.7 81.9 L530.4 84.3 L533.2 84.7 L535.9 82.4 L538.6 82.0 L541.4 81.7 L544.1 81.9 L546.8 81.4 L549.6 81.3 L552.3 80.4 L555.0 77.4 L557.8 74.9 L560.5 76.0 L563.2 77.3 L566.0 79.4 L568.7 81.2" stroke="#00ff40"/>
<path d="M66.0 99.4 L68.7 152.7 L71.5 165.8 L74.2 172.3 L76.9 178.2 L79.7 179.5 L82.4 178.1 L85.1 175.9 L87.9 176.6 L90.6 180.2 L93.3 179.5 L96.1 180.4 L98.8 180.4 L101.5 184.3 L104.2 192.7 L107.0 201.1 L109.7 197.3 L112.4 192.9 L115.2 191.1 L117.9 193.2 L120.6 194.3 L123.4 197.2 L126.1 198.8 L128.8 200.3 L131.6 200.5 L134.3 197.6 L137.0 196.3 L139.8 197.1 L142.5 199.3 L145.2 200.2 L148.0 200.6 L150.7 201.6 L153.4 202.8 L156.2 203.7 L158.9 204.9 L161.6 207.1 L164.4 209.2 L167.1 212.5 L169.8 217.1 L172.5 221.8 L175.3 227.8 L178.0 234.6 L180.7 241.3 L183.5 249.6 L186.2 257.7 L188.9 266.2 L191.7 275.7 L194.4 284.6 L197.1 293.8 L199.9 302.3 L202.6 311.5 L205.3 318.1 L208.1 325.3 L210.8 332.0 L213.5 337.2 L216.3 340.1 L219.0 343.6 L221.7 344.5 L224.5 337.1 L227.2 327.7 L229.9 320.0 L232.7 313.3 L235.4 303.5 L238.1 290.2 L240.8 276.9 L243.6 263.3 L246.3 250.8 L249.0 239.5 L251.8 227.1 L254.5 212.4 L257.2 194.4 L260.0 176.6 L262.7 160.6 L265.4 144.4 L268.2 131.0 L270.9 120.0 L273.6 111.4 L276.4 103.0 L279.1 96.0 L281.8 90.3 L284.6 85.3 L287.3 80.3 L290.0 75.5 L292.8 71.4 L295.5 68.3 L298.2 67.5 L301.0 65.8 L303.7 64.2 L306.4 64.0 L309.1 62.7 L311.9 64.4 L314.6 66.4 L317.3 68.1 L320.1 69.8 L322.8 70.5 L325.5 72.0 L328.3 73.9 L331.0 74.9 L333.7 77.7 L336.5 79.3 L339.2 81.2 L341.9 83.2 L344.7 81.3 L347.4 81.2 L350.1 82.3 L352.9 79.6 L355.6 79.6 L358.3 81.4 L361.1 81.9 L363.8 81.4 L366.5 81.7 L369.3 80.1 L372.0 79.0 L374.7 80.3 L377.4 80.6 L380.2 79.5 L382.9 77.0 L385.6 75.7 L388.4 77.0 L391.1 80.2 L393.8 83.4 L396.6 83.2 L399.3 82.4 L402.0 80.0 L404.8 79.5 L407.5 79.0 L410.2 81.2 L413.0 83.7 L415.7 82.9 L418.4 82.3 L421.2 80.9 L423.9 79.2 L426.6 80.1 L429.4 80.0 L432.1 77.1 L434.8 76.2 L437.6 79.5 L440.3 82.5 L443.0 82.9 L445.7 80.6 L448.5 80.3 L451.2 80.4 L453.9 81.2 L456.7 82.8 L459.4 83.5 L462.1 80.6 L464.9 78.3 L467.6 77.5 L470.3 75.9 L473.1 76.5 L475.8 79.3 L478.5 82.6 L481.3 83.7 L484.0 81.6 L486.7 83.1 L489.5 84.3 L492.2 82.1 L494.9 82.0 L497.7 79.7 L500.4 79.3 L503.1 78.3 L505.9 81.3 L508.6 82.5 L511.3 81.9 L514.0 83.4 L516.8 83.4 L519.5 85.6 L522.2 86.1 L525.0 85.5 L527.7 84.2 L530.4 85.2 L533.2 84.2 L535.9 82.1 L538.6 81.5 L541.4 82.1 L544.1 81.2 L546.8 80.5 L549.6 81.8 L552.3 82.1 L555.0 83.5 L557.8 79.3 L560.5 79.4 L563.2 80.3 L566.0 79.9 L568.7 80.9" stroke="#40ff00"/>
<path d="M66.0 101.7 L68.7 160.1 L71.5 174.7 L74.2 181.3 L76.9 187.8 L79.7 189.5 L82.4 188.4 L85.1 187.1 L87.9 187.5 L90.6 188.9 L93.3 190.4 L96.1 188.3 L98.8 185.2 L101.5 183.8 L104.2 191.3 L107.0 195.4 L109.7 192.0 L112.4 188.5 L115.2 187.6 L117.9 190.5 L120.6 193.5 L123.4 195.3 L126.1 196.7 L128.8 198.5 L131.6 201.8 L134.3 203.0 L137.0 200.3 L139.8 200.6 L142.5 201.3 L145.2 202.1 L148.0 203.2 L150.7 206.2 L153.4 207.8 L156.2 208.6 L158.9 209.0 L161.6 211.1 L164.4 213.1 L167.1 216.8 L169.8 221.2 L172.5 226.1 L175.3 231.8 L178.0 238.7 L180.7 245.8 L183.5 254.6 L186.2 264.1 L188.9 272.2 L191.7 281.4 L194.4 291.5 L197.1 302.0 L199.9 312.0 L202.6 321.4 L205.3 330.0 L208.1 338.2 L210.8 345.8 L213.5 352.7 L216.3 356.9 L219.0 360.4 L221.7 361.0 L224.5 355.6 L227.2 347.5 L229.9 337.6 L232.7 329.8 L235.4 319.7 L238.1 309.2 L240.8 297.0 L243.6 285.0 L246.3 271.5 L249.0 256.7 L251.8 243.8 L254.5 231.4 L257.2 215.7 L260.0 196.4 L262.7 179.4 L265.4 162.8 L268.2 144.8 L270.9 130.8 L273.6 119.5 L276.4 109.4 L279.1 101.6 L281.8 95.7 L284.6 90.8 L287.3 86.4 L290.0 82.4 L292.8 76.5 L295.5 72.8 L298.2 70.0 L301.0 68.2 L303.7 66.7 L306.4 64.4 L309.1 63.3 L311.9 64.3 L314.6 66.3 L317.3 68.3 L320.1 71.7 L322.8 72.5 L325.5 73.9 L328.3 73.4 L331.0 74.3 L333.7 75.8 L336.5 76.6 L339.2 78.6 L341.9 79.5 L344.7 79.8 L347.4 78.4 L350.1 78.1 L352.9 79.5 L355.6 79.9 L358.3 80.3 L361.1 79.6 L363.8 78.6 L366.5 80.5 L369.3 81.6 L372.0 82.2 L374.7 83.0 L377.4 82.0 L380.2 79.7 L382.9 78.7 L385.6 79.8 L388.4 79.5 L391.1 79.0 L393.8 85.5 L396.6 86.1 L399.3 83.0 L402.0 83.6 L404.8 84.2 L407.5 82.4 L410.2 80.5 L413.0 79.4 L415.7 79.3 L418.4 79.3 L421.2 77.1 L423.9 76.1 L426.6 76.8 L429.4 77.8 L432.1 78.6 L434.8 78.5 L437.6 79.6 L440.3 80.9 L443.0 81.0 L445.7 81.7 L448.5 81.6 L451.2 80.3 L453.9 79.0 L456.7 78.0 L459.4 76.9 L462.1 75.2 L464.9 72.2 L467.6 70.8 L470.3 72.9 L473.1 75.1 L475.8 77.7 L478.5 78.4 L481.3 82.1 L484.0 82.8 L486.7 82.1 L489.5 82.8 L492.2 81.6 L494.9 79.7 L497.7 77.5 L500.4 77.3 L503.1 77.5 L505.9 79.1 L508.6 80.4 L511.3 79.9 L514.0 82.7 L516.8 82.5 L519.5 81.2 L522.2 82.8 L525.0 82.2 L527.7 81.8 L530.4 82.0 L533.2 82.6 L535.9 80.7 L538.6 79.0 L541.4 78.7 L544.1 79.8 L546.8 81.7 L549.6 81.0 L552.3 79.6 L555.0 79.0 L557.8 77.1 L560.5 76.8 L563.2 76.9 L566.0 77.5 L568.7 81.0" stroke="#80ff00"/>
<path d="M66.0 93.2 L68.7 102.5 L71.5 110.6 L74.2 118.7 L76.9 124.7 L79.7 136.1 L82.4 145.8 L85.1 157.8 L87.9 177.1 L90.6 191.8 L93.3 194.1 L96.1 197.4 L98.8 199.6 L101.5 199.4 L104.2 196.8 L107.0 197.7 L109.7 205.8 L112.4 204.6 L115.2 202.2 L117.9 200.7 L120.6 202.9 L123.4 206.5 L126.1 206.9 L128.8 207.5 L131.6 207.7 L134.3 205.4 L137.0 202.2 L139.8 201.3 L142.5 202.5 L145.2 203.4 L148.0 205.0 L150.7 208.7 L153.4 211.3 L156.2 212.4 L158.9 213.2 L161.6 214.8 L164.4 217.3 L167.1 219.6 L169.8 223.4 L172.5 228.3 L175.3 234.8 L178.0 242.2 L180.7 249.0 L183.5 257.6 L186.2 267.2 L188.9 279.3 L191.7 293.7 L194.4 305.7 L197.1 317.7 L199.9 328.6 L202.6 338.8 L205.3 346.8 L208.1 354.1 L210.8 360.2 L213.5 365.3 L216.3 368.9 L219.0 372.7 L221.7 373.4 L224.5 369.3 L227.2 361.3 L229.9 352.8 L232.7 344.7 L235.4 334.1 L238.1 322.4 L240.8 309.6 L243.6 297.1 L246.3 283.7 L249.0 269.0 L251.8 255.2 L254.5 242.5 L257.2 229.0 L260.0 213.6 L262.7 197.2 L265.4 182.2 L268.2 168.5 L270.9 155.6 L273.6 142.6 L276.4 129.0 L279.1 117.8 L281.8 109.3 L284.6 100.8 L287.3 93.5 L290.0 87.3 L292.8 82.3 L295.5 78.7 L298.2 75.9 L301.0 73.7 L303.7 71.0 L306.4 69.5 L309.1 68.3 L311.9 69.1 L314.6 69.8 L317.3 69.5 L320.1 73.3 L322.8 74.7 L325.5 74.4 L328.3 75.1 L331.0 75.6 L333.7 77.1 L336.5 78.3 L339.2 80.0 L341.9 82.5 L344.7 81.2 L347.4 78.3 L350.1 77.4 L352.9 75.7 L355.6 77.4 L358.3 78.3 L361.1 78.4 L363.8 80.4 L366.5 80.8 L369.3 80.8 L372.0 80.9 L374.7 81.7 L377.4 81.0 L380.2 80.5 L382.9 81.3 L385.6 80.9 L388.4 81.0 L391.1 80.3 L393.8 81.2 L396.6 83.6 L399.3 83.4 L402.0 82.0 L404.8 80.4 L407.5 81.0 L410.2 81.0 L413.0 79.5 L415.7 77.1 L418.4 77.8 L421.2 80.6 L423.9 81.5 L426.6 83.4 L429.4 80.9 L432.1 78.5 L434.8 79.7 L437.6 82.1 L440.3 83.2 L443.0 83.2 L445.7 82.9 L448.5 81.5 L451.2 84.8 L453.9 85.4 L456.7 83.9 L459.4 81.2 L462.1 81.7 L464.9 80.2 L467.6 78.6 L470.3 78.1 L473.1 79.3 L475.8 81.0 L478.5 83.1 L481.3 85.0 L484.0 85.1 L486.7 81.8 L489.5 79.4 L492.2 79.0 L494.9 78.0 L497.7 78.7 L500.4 80.7 L503.1 81.1 L505.9 80.7 L508.6 81.0 L511.3 78.8 L514.0 79.4 L516.8 80.6 L519.5 83.8 L522.2 83.6 L525.0 81.0 L527.7 79.2 L530.4 80.7 L533.2 79.6 L535.9 82.6 L538.6 83.9 L541.4 83.3 L544.1 80.5 L546.8 80.1 L549.6 79.2 L552.3 79.0 L555.0 78.7 L557.8 77.4 L560.5 76.7 L563.2 79.2 L566.0 79.2 L568.7 81.6" stroke="#c8ff00"/>
<path d="M66.0 94.0 L68.7 98.9 L71.5 109.2 L74.2 129.9 L76.9 152.8 L79.7 169.2 L82.4 181.5 L85.1 187.8 L87.9 190.9 L90.6 192.7 L93.3 194.1 L96.1 197.7 L98.8 201.5 L101.5 208.0 L104.2 208.9 L107.0 207.6 L109.7 207.9 L112.4 207.8 L115.2 204.4 L117.9 204.3 L120.6 205.7 L123.4 209.2 L126.1 210.9 L128.8 211.3 L131.6 209.6 L134.3 207.3 L137.0 204.4 L139.8 203.1 L142.5 203.6 L145.2 204.5 L148.0 206.4 L150.7 211.4 L153.4 214.3 L156.2 213.8 L158.9 213.9 L161.6 214.0 L164.4 217.5 L167.1 221.8 L169.8 226.0 L172.5 231.0 L175.3 237.3 L178.0 244.4 L180.7 251.5 L183.5 259.8 L186.2 267.9 L188.9 277.5 L191.7 289.3 L194.4 301.4 L197.1 313.1 L199.9 325.0 L202.6 335.0 L205.3 342.5 L208.1 348.8 L210.8 354.3 L213.5 358.6 L216.3 362.5 L219.0 364.5 L221.7 364.6 L224.5 360.2 L227.2 353.9 L229.9 347.1 L232.7 340.2 L235.4 333.1 L238.1 325.0 L240.8 315.8 L243.6 306.3 L246.3 293.3 L249.0 279.5 L251.8 267.2 L254.5 254.5 L257.2 241.5 L260.0 230.2 L262.7 215.7 L265.4 198.3 L268.2 183.9 L270.9 172.2 L273.6 159.2 L276.4 146.1 L279.1 134.5 L281.8 122.2 L284.6 111.6 L287.3 103.5 L290.0 95.7 L292.8 88.2 L295.5 82.3 L298.2 78.9 L301.0 78.1 L303.7 78.1 L306.4 75.1 L309.1 73.8 L311.9 76.0 L314.6 76.5 L317.3 79.2 L320.1 80.3 L322.8 79.5 L325.5 79.1 L328.3 79.3 L331.0 78.2 L333.7 82.4 L336.5 87.0 L339.2 89.0 L341.9 91.4 L344.7 87.5 L347.4 84.4 L350.1 82.4 L352.9 79.6 L355.6 78.4 L358.3 78.3 L361.1 81.2 L363.8 81.8 L366.5 80.8 L369.3 81.3 L372.0 82.5 L374.7 83.0 L377.4 81.0 L380.2 79.3 L382.9 78.8 L385.6 79.4 L388.4 79.1 L391.1 80.9 L393.8 82.1 L396.6 80.7 L399.3 78.3 L402.0 76.1 L404.8 76.3 L407.5 76.1 L410.2 77.4 L413.0 77.2 L415.7 76.6 L418.4 78.4 L421.2 80.8 L423.9 80.9 L426.6 78.8 L429.4 77.2 L432.1 77.1 L434.8 80.1 L437.6 78.1 L440.3 78.8 L443.0 79.4 L445.7 80.9 L448.5 80.9 L451.2 78.2 L453.9 77.9 L456.7 81.3 L459.4 81.3 L462.1 80.0 L464.9 78.7 L467.6 77.8 L470.3 76.3 L473.1 76.5 L475.8 80.1 L478.5 83.1 L481.3 80.0 L484.0 80.0 L486.7 80.2 L489.5 80.2 L492.2 77.4 L494.9 81.3 L497.7 82.8 L500.4 83.0 L503.1 81.2 L505.9 78.8 L508.6 76.9 L511.3 77.9 L514.0 79.3 L516.8 80.3 L519.5 80.5 L522.2 81.2 L525.0 81.3 L527.7 79.0 L530.4 78.0 L533.2 76.3 L535.9 76.6 L538.6 77.6 L541.4 77.4 L544.1 80.4 L546.8 78.6 L549.6 77.4 L552.3 78.2 L555.0 79.9 L557.8 78.0 L560.5 75.9 L563.2 75.7 L566.0 78.8 L568.7 80.1" stroke="#f0f000"/>
<path d="M66.0 97.0 L68.7 106.5 L71.5 115.7 L74.2 126.0 L76.9 137.0 L79.7 145.8 L82.4 173.5 L85.1 185.2 L87.9 191.4 L90.6 198.9 L93.3 207.0 L96.1 212.1 L98.8 215.3 L101.5 218.6 L104.2 217.9 L107.0 215.6 L109.7 215.7 L112.4 213.2 L115.2 213.0 L117.9 212.0 L120.6 213.3 L123.4 215.3 L126.1 216.9 L128.8 217.0 L131.6 217.0 L134.3 213.8 L137.0 207.8 L139.8 204.4 L142.5 204.9 L145.2 205.1 L148.0 207.4 L150.7 212.8 L153.4 215.2 L156.2 215.3 L158.9 215.6 L161.6 215.3 L164.4 218.2 L167.1 222.2 L169.8 227.3 L172.5 232.3 L175.3 238.8 L178.0 245.7 L180.7 253.3 L183.5 260.8 L186.2 269.2 L188.9 277.6 L191.7 286.6 L194.4 297.3 L197.1 308.5 L199.9 321.0 L202.6 330.9 L205.3 338.3 L208.1 343.4 L210.8 348.2 L213.5 352.3 L216.3 356.2 L219.0 358.8 L221.7 357.6 L224.5 354.1 L227.2 348.5 L229.9 342.1 L232.7 337.0 L235.4 331.3 L238.1 325.4 L240.8 319.2 L243.6 311.8 L246.3 302.1 L249.0 289.8 L251.8 276.5 L254.5 263.7 L257.2 250.5 L260.0 238.3 L262.7 225.6 L265.4 210.9 L268.2 196.1 L270.9 183.2 L273.6 173.0 L276.4 161.3 L279.1 149.2 L281.8 137.2 L284.6 125.7 L287.3 114.9 L290.0 105.9 L292.8 98.0 L295.5 91.0 L298.2 84.2 L301.0 80.3 L303.7 78.7 L306.4 79.2 L309.1 79.9 L311.9 81.1 L314.6 82.0 L317.3 84.1 L320.1 86.0 L322.8 84.5 L325.5 84.7 L328.3 83.3 L331.0 83.4 L333.7 87.0 L336.5 90.2 L339.2 93.2 L341.9 94.0 L344.7 92.3 L347.4 89.5 L350.1 86.2 L352.9 82.9 L355.6 81.8 L358.3 79.8 L361.1 82.0 L363.8 83.2 L366.5 85.4 L369.3 85.7 L372.0 82.3 L374.7 79.8 L377.4 79.5 L380.2 80.5 L382.9 80.9 L385.6 79.3 L388.4 78.4 L391.1 79.1 L393.8 82.3 L396.6 84.9 L399.3 84.3 L402.0 82.2 L404.8 83.8 L407.5 83.4 L410.2 80.5 L413.0 81.7 L415.7 81.5 L418.4 83.1 L421.2 85.0 L423.9 84.4 L426.6 81.3 L429.4 78.1 L432.1 78.2 L434.8 80.7 L437.6 80.8 L440.3 82.1 L443.0 84.2 L445.7 84.1 L448.5 82.8 L451.2 82.4 L453.9 84.1 L456.7 82.9 L459.4 82.4 L462.1 80.7 L464.9 79.3 L467.6 77.1 L470.3 76.0 L473.1 76.2 L475.8 75.7 L478.5 79.7 L481.3 80.7 L484.0 82.9 L486.7 83.5 L489.5 82.7 L492.2 82.7 L494.9 80.7 L497.7 79.2 L500.4 79.6 L503.1 80.3 L505.9 79.4 L508.6 80.5 L511.3 81.5 L514.0 82.3 L516.8 81.4 L519.5 78.3 L522.2 78.8 L525.0 79.9 L527.7 78.8 L530.4 81.1 L533.2 83.4 L535.9 84.1 L538.6 82.0 L541.4 80.3 L544.1 81.3 L546.8 81.4 L549.6 78.9 L552.3 79.0 L555.0 80.1 L557.8 79.1 L560.5 78.6 L563.2 78.1 L566.0 79.8 L568.7 81.9" stroke="#ffd000"/>
<path d="M66.0 98.1 L68.7 112.1 L71.5 126.9 L74.2 143.1 L76.9 164.6 L79.7 188.4 L82.4 207.9 L85.1 220.9 L87.9 230.7 L90.6 234.0 L93.3 234.5 L96.1 236.2 L98.8 243.3 L101.5 244.6 L104.2 242.9 L107.0 238.2 L109.7 231.9 L112.4 227.1 L115.2 222.4 L117.9 216.6 L120.6 216.3 L123.4 217.1 L126.1 216.2 L128.8 214.6 L131.6 212.5 L134.3 210.4 L137.0 208.8 L139.8 206.9 L142.5 206.8 L145.2 206.3 L148.0 207.2 L150.7 213.3 L153.4 217.5 L156.2 216.9 L158.9 215.9 L161.6 216.0 L164.4 219.2 L167.1 223.5 L169.8 227.8 L172.5 232.7 L175.3 239.8 L178.0 247.1 L180.7 253.9 L183.5 261.2 L186.2 270.4 L188.9 278.7 L191.7 287.6 L194.4 297.4 L197.1 307.7 L199.9 318.2 L202.6 326.9 L205.3 334.2 L208.1 341.0 L210.8 344.9 L213.5 348.5 L216.3 352.7 L219.0 355.0 L221.7 353.7 L224.5 350.2 L227.2 345.1 L229.9 339.7 L232.7 334.7 L235.4 329.7 L238.1 325.5 L240.8 321.2 L243.6 316.8 L246.3 308.9 L249.0 298.7 L251.8 285.4 L254.5 272.7 L257.2 258.9 L260.0 245.4 L262.7 233.2 L265.4 221.1 L268.2 207.4 L270.9 195.0 L273.6 184.0 L276.4 174.6 L279.1 165.1 L281.8 154.7 L284.6 143.6 L287.3 132.6 L290.0 121.7 L292.8 112.0 L295.5 101.8 L298.2 94.8 L301.0 89.4 L303.7 82.8 L306.4 81.9 L309.1 81.6 L311.9 81.4 L314.6 85.4 L317.3 87.2 L320.1 88.9 L322.8 88.4 L325.5 86.2 L328.3 85.5 L331.0 84.7 L333.7 86.4 L336.5 92.0 L339.2 95.7 L341.9 95.0 L344.7 92.4 L347.4 89.6 L350.1 84.5 L352.9 82.3 L355.6 81.9 L358.3 82.8 L361.1 83.6 L363.8 83.0 L366.5 82.3 L369.3 83.4 L372.0 86.9 L374.7 88.3 L377.4 85.0 L380.2 81.6 L382.9 81.6 L385.6 81.5 L388.4 82.8 L391.1 85.2 L393.8 84.7 L396.6 82.6 L399.3 80.6 L402.0 81.3 L404.8 81.2 L407.5 80.7 L410.2 79.6 L413.0 79.4 L415.7 80.6 L418.4 78.8 L421.2 78.4 L423.9 79.2 L426.6 76.9 L429.4 73.9 L432.1 72.3 L434.8 75.4 L437.6 79.1 L440.3 82.9 L443.0 83.5 L445.7 83.3 L448.5 82.1 L451.2 81.8 L453.9 80.6 L456.7 81.0 L459.4 81.5 L462.1 79.5 L464.9 78.8 L467.6 77.5 L470.3 75.7 L473.1 76.1 L475.8 79.7 L478.5 84.4 L481.3 83.3 L484.0 81.0 L486.7 83.1 L489.5 82.1 L492.2 79.4 L494.9 79.0 L497.7 81.3 L500.4 80.0 L503.1 79.3 L505.9 80.2 L508.6 81.6 L511.3 79.6 L514.0 78.0 L516.8 77.2 L519.5 80.3 L522.2 82.0 L525.0 81.8 L527.7 81.9 L530.4 81.3 L533.2 79.1 L535.9 79.9 L538.6 80.6 L541.4 81.4 L544.1 81.1 L546.8 81.6 L549.6 79.8 L552.3 78.6 L555.0 79.1 L557.8 79.4 L560.5 78.2 L563.2 76.7 L566.0 76.0 L568.7 78.6" stroke="#ffb400"/>
<path d="M66.0 100.9 L68.7 173.0 L71.5 210.2 L74.2 221.4 L76.9 223.9 L79.7 224.7 L82.4 228.5 L85.1 259.8 L87.9 277.4 L90.6 289.0 L93.3 281.8 L96.1 280.5 L98.8 281.4 L101.5 283.9 L104.2 283.7 L107.0 282.3 L109.7 275.6 L112.4 266.3 L115.2 256.7 L117.9 249.1 L120.6 245.4 L123.4 241.2 L126.1 236.5 L128.8 230.0 L131.6 225.9 L134.3 223.9 L137.0 220.1 L139.8 216.8 L142.5 212.2 L145.2 208.9 L148.0 205.8 L150.7 211.4 L153.4 215.7 L156.2 215.2 L158.9 215.7 L161.6 216.6 L164.4 219.3 L167.1 223.4 L169.8 227.5 L172.5 233.1 L175.3 239.3 L178.0 247.1 L180.7 254.2 L183.5 261.6 L186.2 269.1 L188.9 278.2 L191.7 287.4 L194.4 296.6 L197.1 306.4 L199.9 315.7 L202.6 325.0 L205.3 331.6 L208.1 336.9 L210.8 341.5 L213.5 345.0 L216.3 348.4 L219.0 351.4 L221.7 350.9 L224.5 348.2 L227.2 343.6 L229.9 337.9 L232.7 333.2 L235.4 329.7 L238.1 326.7 L240.8 322.7 L243.6 318.2 L246.3 313.1 L249.0 306.4 L251.8 295.2 L254.5 281.7 L257.2 268.9 L260.0 256.0 L262.7 244.7 L265.4 232.9 L268.2 220.8 L270.9 208.0 L273.6 195.3 L276.4 185.2 L279.1 177.3 L281.8 169.8 L284.6 160.2 L287.3 149.7 L290.0 140.3 L292.8 131.7 L295.5 123.6 L298.2 116.1 L301.0 107.5 L303.7 100.1 L306.4 95.9 L309.1 92.7 L311.9 89.9 L314.6 89.5 L317.3 89.2 L320.1 91.0 L322.8 90.9 L325.5 90.2 L328.3 89.0 L331.0 87.7 L333.7 89.0 L336.5 92.7 L339.2 96.8 L341.9 97.1 L344.7 94.7 L347.4 92.1 L350.1 89.5 L352.9 87.4 L355.6 85.4 L358.3 85.7 L361.1 86.0 L363.8 87.4 L366.5 86.1 L369.3 83.9 L372.0 82.8 L374.7 82.7 L377.4 80.2 L380.2 77.9 L382.9 78.6 L385.6 81.5 L388.4 82.5 L391.1 82.4 L393.8 85.8 L396.6 85.8 L399.3 83.2 L402.0 82.6 L404.8 80.7 L407.5 81.7 L410.2 80.9 L413.0 81.7 L415.7 83.2 L418.4 83.4 L421.2 83.5 L423.9 84.1 L426.6 83.6 L429.4 83.7 L432.1 84.6 L434.8 83.9 L437.6 83.7 L440.3 85.2 L443.0 86.4 L445.7 84.4 L448.5 81.8 L451.2 82.1 L453.9 83.2 L456.7 82.5 L459.4 81.3 L462.1 81.2 L464.9 78.4 L467.6 79.0 L470.3 79.4 L473.1 79.1 L475.8 79.3 L478.5 79.8 L481.3 80.5 L484.0 81.4 L486.7 83.5 L489.5 84.5 L492.2 82.3 L494.9 80.0 L497.7 78.3 L500.4 79.0 L503.1 78.5 L505.9 79.1 L508.6 81.8 L511.3 82.4 L514.0 82.0 L516.8 82.9 L519.5 82.8 L522.2 81.0 L525.0 81.1 L527.7 82.9 L530.4 83.8 L533.2 85.1 L535.9 83.1 L538.6 81.6 L541.4 81.2 L544.1 80.4 L546.8 81.7 L549.6 81.9 L552.3 80.2 L555.0 79.6 L557.8 74.9 L560.5 73.1 L563.2 76.0 L566.0 78.7 L568.7 79.9" stroke="#ff6a00"/>
<path d="M66.0 89.8 L68.7 106.4 L71.5 112.5 L74.2 124.4 L76.9 151.9 L79.7 189.7 L82.4 194.1 L85.1 201.5 L87.9 213.0 L90.6 222.7 L93.3 231.6 L96.1 237.8 L98.8 244.0 L101.5 249.8 L104.2 248.0 L107.0 243.8 L109.7 238.7 L112.4 232.3 L115.2 226.8 L117.9 223.4 L120.6 221.5 L123.4 220.5 L126.1 216.9 L128.8 214.9 L131.6 213.2 L134.3 210.8 L137.0 208.0 L139.8 205.8 L142.5 205.1 L145.2 205.8 L148.0 206.4 L150.7 210.9 L153.4 214.8 L156.2 215.6 L158.9 215.5 L161.6 216.8 L164.4 219.3 L167.1 223.2 L169.8 228.1 L172.5 232.8 L175.3 238.9 L178.0 245.6 L180.7 252.6 L183.5 260.4 L186.2 268.6 L188.9 276.7 L191.7 285.1 L194.4 293.8 L197.1 303.1 L199.9 312.4 L202.6 321.1 L205.3 326.7 L208.1 332.5 L210.8 337.9 L213.5 341.2 L216.3 344.9 L219.0 346.7 L221.7 347.5 L224.5 345.4 L227.2 341.6 L229.9 337.3 L232.7 332.2 L235.4 328.3 L238.1 324.5 L240.8 322.3 L243.6 318.4 L246.3 314.6 L249.0 309.1 L251.8 301.2 L254.5 290.2 L257.2 278.8 L260.0 267.4 L262.7 255.4 L265.4 243.2 L268.2 231.7 L270.9 221.9 L273.6 212.9 L276.4 204.3 L279.1 195.5 L281.8 186.1 L284.6 177.5 L287.3 170.0 L290.0 162.9 L292.8 155.2 L295.5 146.1 L298.2 138.7 L301.0 133.1 L303.7 127.0 L306.4 119.3 L309.1 109.8 L311.9 100.3 L314.6 97.2 L317.3 96.3 L320.1 93.6 L322.8 91.0 L325.5 89.0 L328.3 89.3 L331.0 89.1 L333.7 90.3 L336.5 93.5 L339.2 97.3 L341.9 98.6 L344.7 94.2 L347.4 91.7 L350.1 90.0 L352.9 88.1 L355.6 88.7 L358.3 89.0 L361.1 89.1 L363.8 88.0 L366.5 87.4 L369.3 87.0 L372.0 84.8 L374.7 83.7 L377.4 84.5 L380.2 82.9 L382.9 79.8 L385.6 83.6 L388.4 87.4 L391.1 86.3 L393.8 83.6 L396.6 84.0 L399.3 84.1 L402.0 81.8 L404.8 81.8 L407.5 83.5 L410.2 83.6 L413.0 83.6 L415.7 82.7 L418.4 81.2 L421.2 81.3 L423.9 81.9 L426.6 80.2 L429.4 81.2 L432.1 83.8 L434.8 84.0 L437.6 85.1 L440.3 85.7 L443.0 86.9 L445.7 86.3 L448.5 85.1 L451.2 83.2 L453.9 83.1 L456.7 81.8 L459.4 80.4 L462.1 79.9 L464.9 79.0 L467.6 79.6 L470.3 80.8 L473.1 82.2 L475.8 84.2 L478.5 86.6 L481.3 85.0 L484.0 83.6 L486.7 81.8 L489.5 82.8 L492.2 82.9 L494.9 80.5 L497.7 78.1 L500.4 81.0 L503.1 82.3 L505.9 82.2 L508.6 81.5 L511.3 82.4 L514.0 82.8 L516.8 81.9 L519.5 82.9 L522.2 82.8 L525.0 84.4 L527.7 84.9 L530.4 83.9 L533.2 82.3 L535.9 81.0 L538.6 79.8 L541.4 82.8 L544.1 84.1 L546.8 83.6 L549.6 82.4 L552.3 81.3 L555.0 78.5 L557.8 77.7 L560.5 79.7 L563.2 80.3 L566.0 80.8 L568.7 81.0" stroke="#ff3000"/>
<path d="M66.0 82.7 L68.7 69.8 L71.5 58.1 L74.2 57.2 L76.9 85.8 L79.7 104.5 L82.4 122.5 L85.1 135.1 L87.9 149.0 L90.6 162.8 L93.3 184.1 L96.1 213.0 L98.8 247.1 L101.5 271.5 L104.2 273.6 L107.0 263.3 L109.7 258.9 L112.4 255.9 L115.2 249.4 L117.9 240.1 L120.6 226.2 L123.4 228.5 L126.1 232.5 L128.8 231.0 L131.6 227.5 L134.3 224.2 L137.0 220.0 L139.8 215.8 L142.5 210.5 L145.2 208.1 L148.0 205.6 L150.7 206.4 L153.4 207.5 L156.2 208.1 L158.9 207.9 L161.6 207.4 L164.4 207.7 L167.1 209.6 L169.8 213.6 L172.5 216.9 L175.3 222.0 L178.0 228.3 L180.7 233.6 L183.5 239.6 L186.2 244.9 L188.9 251.6 L191.7 258.9 L194.4 266.0 L197.1 273.5 L199.9 280.4 L202.6 287.5 L205.3 293.7 L208.1 300.0 L210.8 306.0 L213.5 311.9 L216.3 317.3 L219.0 322.0 L221.7 327.1 L224.5 331.8 L227.2 332.5 L229.9 331.1 L232.7 328.5 L235.4 325.3 L238.1 322.6 L240.8 320.5 L243.6 318.3 L246.3 316.0 L249.0 312.4 L251.8 307.8 L254.5 302.1 L257.2 294.9 L260.0 284.8 L262.7 273.8 L265.4 261.5 L268.2 249.6 L270.9 235.8 L273.6 224.3 L276.4 217.3 L279.1 211.2 L281.8 204.7 L284.6 196.9 L287.3 190.0 L290.0 183.3 L292.8 176.8 L295.5 169.5 L298.2 163.6 L301.0 156.7 L303.7 152.1 L306.4 147.9 L309.1 146.1 L311.9 141.8 L314.6 130.2 L317.3 119.0 L320.1 113.5 L322.8 109.5 L325.5 108.2 L328.3 106.3 L331.0 104.8 L333.7 105.8 L336.5 107.5 L339.2 108.6 L341.9 108.2 L344.7 107.3 L347.4 102.9 L350.1 99.8 L352.9 97.7 L355.6 97.5 L358.3 94.8 L361.1 92.5 L363.8 93.1 L366.5 92.7 L369.3 90.4 L372.0 87.7 L374.7 84.4 L377.4 82.7 L380.2 81.9 L382.9 79.4 L385.6 80.1 L388.4 81.5 L391.1 83.3 L393.8 85.5 L396.6 84.9 L399.3 82.0 L402.0 81.1 L404.8 82.0 L407.5 84.3 L410.2 84.4 L413.0 83.5 L415.7 83.0 L418.4 83.4 L421.2 84.1 L423.9 83.0 L426.6 82.1 L429.4 83.6 L432.1 83.3 L434.8 82.5 L437.6 84.2 L440.3 85.9 L443.0 84.9 L445.7 87.6 L448.5 89.9 L451.2 89.0 L453.9 88.9 L456.7 87.1 L459.4 84.9 L462.1 81.7 L464.9 79.6 L467.6 78.9 L470.3 81.8 L473.1 84.0 L475.8 84.9 L478.5 85.5 L481.3 87.9 L484.0 87.6 L486.7 87.8 L489.5 86.3 L492.2 85.6 L494.9 88.7 L497.7 86.8 L500.4 82.3 L503.1 80.7 L505.9 82.3 L508.6 85.0 L511.3 86.0 L514.0 85.7 L516.8 84.6 L519.5 85.9 L522.2 86.9 L525.0 86.4 L527.7 83.4 L530.4 80.8 L533.2 81.6 L535.9 82.4 L538.6 82.2 L541.4 82.2 L544.1 84.7 L546.8 87.0 L549.6 84.8 L552.3 81.6 L555.0 81.4 L557.8 80.4 L560.5 79.9 L563.2 79.9 L566.0 79.9 L568.7 83.4" stroke="#f80800"/>
<path d="M66.0 85.8 L68.7 70.3 L71.5 60.6 L74.2 57.5 L76.9 80.9 L79.7 101.5 L82.4 118.6 L85.1 132.2 L87.9 144.5 L90.6 158.8 L93.3 177.4 L96.1 198.1 L98.8 223.4 L101.5 247.4 L104.2 257.5 L107.0 253.4 L109.7 251.0 L112.4 248.5 L115.2 246.4 L117.9 243.6 L120.6 240.9 L123.4 237.8 L126.1 238.4 L128.8 235.6 L131.6 234.3 L134.3 231.0 L137.0 226.6 L139.8 221.4 L142.5 216.4 L145.2 210.6 L148.0 208.7 L150.7 207.3 L153.4 207.2 L156.2 206.9 L158.9 205.9 L161.6 205.8 L164.4 205.0 L167.1 205.0 L169.8 206.7 L172.5 208.9 L175.3 212.7 L178.0 218.5 L180.7 222.5 L183.5 227.2 L186.2 231.1 L188.9 236.1 L191.7 242.4 L194.4 249.2 L197.1 256.0 L199.9 262.6 L202.6 269.7 L205.3 275.9 L208.1 282.4 L210.8 287.5 L213.5 293.7 L216.3 298.7 L219.0 304.3 L221.7 308.2 L224.5 311.3 L227.2 313.5 L229.9 314.1 L232.7 314.4 L235.4 313.3 L238.1 313.3 L240.8 313.4 L243.6 312.2 L246.3 310.8 L249.0 309.1 L251.8 307.8 L254.5 303.3 L257.2 297.6 L260.0 291.2 L262.7 283.3 L265.4 273.9 L268.2 262.0 L270.9 249.9 L273.6 239.1 L276.4 229.6 L279.1 221.7 L281.8 214.6 L284.6 208.8 L287.3 202.9 L290.0 197.9 L292.8 193.3 L295.5 187.8 L298.2 182.2 L301.0 176.2 L303.7 170.9 L306.4 165.6 L309.1 161.3 L311.9 157.3 L314.6 154.5 L317.3 151.4 L320.1 146.5 L322.8 141.8 L325.5 138.4 L328.3 135.7 L331.0 131.4 L333.7 128.9 L336.5 125.9 L339.2 122.4 L341.9 118.7 L344.7 114.8 L347.4 113.0 L350.1 111.3 L352.9 107.2 L355.6 104.2 L358.3 104.3 L361.1 104.6 L363.8 100.6 L366.5 95.4 L369.3 92.0 L372.0 92.6 L374.7 91.8 L377.4 89.9 L380.2 86.5 L382.9 86.0 L385.6 83.4 L388.4 80.8 L391.1 82.2 L393.8 82.5 L396.6 83.7 L399.3 82.1 L402.0 82.6 L404.8 82.4 L407.5 80.6 L410.2 80.7 L413.0 86.1 L415.7 84.2 L418.4 84.1 L421.2 83.2 L423.9 81.5 L426.6 80.6 L429.4 78.9 L432.1 80.0 L434.8 82.4 L437.6 83.1 L440.3 84.3 L443.0 86.0 L445.7 85.1 L448.5 84.5 L451.2 84.5 L453.9 84.9 L456.7 81.0 L459.4 80.3 L462.1 79.5 L464.9 80.8 L467.6 78.0 L470.3 77.5 L473.1 80.8 L475.8 84.5 L478.5 85.6 L481.3 86.4 L484.0 85.6 L486.7 87.3 L489.5 87.8 L492.2 86.8 L494.9 84.0 L497.7 84.4 L500.4 85.0 L503.1 86.2 L505.9 84.7 L508.6 83.6 L511.3 84.0 L514.0 81.8 L516.8 82.6 L519.5 84.1 L522.2 84.9 L525.0 85.8 L527.7 84.3 L530.4 81.9 L533.2 80.6 L535.9 81.6 L538.6 84.2 L541.4 85.9 L544.1 86.8 L546.8 85.0 L549.6 81.4 L552.3 81.0 L555.0 82.6 L557.8 81.2 L560.5 79.5 L563.2 79.5 L566.0 80.1 L568.7 81.3" stroke="#e80000"/>
<path d="M66.0 85.2 L68.7 74.4 L71.5 65.3 L74.2 60.8 L76.9 78.4 L79.7 97.8 L82.4 113.8 L85.1 127.3 L87.9 138.7 L90.6 151.5 L93.3 168.9 L96.1 189.4 L98.8 212.4 L101.5 236.5 L104.2 259.2 L107.0 259.8 L109.7 256.0 L112.4 253.5 L115.2 249.7 L117.9 248.2 L120.6 246.7 L123.4 245.8 L126.1 244.4 L128.8 242.5 L131.6 241.7 L134.3 237.4 L137.0 233.7 L139.8 228.4 L142.5 221.7 L145.2 214.4 L148.0 209.4 L150.7 207.4 L153.4 207.1 L156.2 206.7 L158.9 205.8 L161.6 205.4 L164.4 204.7 L167.1 204.8 L169.8 205.7 L172.5 207.5 L175.3 209.6 L178.0 213.2 L180.7 217.4 L183.5 221.5 L186.2 226.5 L188.9 231.8 L191.7 237.0 L194.4 242.3 L197.1 248.2 L199.9 253.8 L202.6 259.5 L205.3 265.3 L208.1 270.2 L210.8 275.9 L213.5 281.2 L216.3 286.8 L219.0 291.8 L221.7 295.7 L224.5 300.1 L227.2 303.3 L229.9 305.8 L232.7 307.0 L235.4 308.8 L238.1 310.7 L240.8 312.1 L243.6 311.6 L246.3 311.7 L249.0 311.3 L251.8 310.5 L254.5 308.2 L257.2 304.6 L260.0 300.8 L262.7 294.7 L265.4 288.5 L268.2 281.5 L270.9 270.2 L273.6 259.8 L276.4 249.5 L279.1 239.4 L281.8 228.9 L284.6 221.3 L287.3 214.9 L290.0 209.2 L292.8 203.6 L295.5 196.9 L298.2 191.1 L301.0 185.1 L303.7 180.8 L306.4 176.6 L309.1 169.0 L311.9 164.8 L314.6 161.6 L317.3 155.5 L320.1 151.8 L322.8 147.3 L325.5 142.7 L328.3 140.8 L331.0 136.5 L333.7 132.4 L336.5 129.4 L339.2 126.6 L341.9 124.0 L344.7 119.1 L347.4 116.4 L350.1 114.4 L352.9 110.4 L355.6 107.1 L358.3 107.1 L361.1 104.8 L363.8 106.5 L366.5 104.1 L369.3 102.3 L372.0 98.2 L374.7 94.5 L377.4 89.6 L380.2 86.5 L382.9 86.7 L385.6 86.3 L388.4 85.2 L391.1 86.1 L393.8 85.7 L396.6 84.1 L399.3 80.7 L402.0 78.7 L404.8 81.4 L407.5 81.7 L410.2 82.0 L413.0 81.8 L415.7 78.9 L418.4 80.2 L421.2 83.4 L423.9 81.6 L426.6 80.0 L429.4 78.1 L432.1 79.5 L434.8 81.6 L437.6 81.0 L440.3 82.6 L443.0 85.2 L445.7 85.7 L448.5 84.7 L451.2 84.9 L453.9 84.0 L456.7 82.1 L459.4 79.5 L462.1 78.3 L464.9 76.7 L467.6 76.8 L470.3 78.4 L473.1 80.5 L475.8 81.9 L478.5 82.9 L481.3 85.6 L484.0 86.2 L486.7 83.5 L489.5 81.9 L492.2 82.5 L494.9 83.2 L497.7 84.2 L500.4 85.4 L503.1 84.0 L505.9 83.6 L508.6 82.2 L511.3 79.0 L514.0 80.2 L516.8 80.8 L519.5 80.5 L522.2 83.7 L525.0 82.6 L527.7 81.6 L530.4 82.3 L533.2 83.1 L535.9 82.9 L538.6 81.6 L541.4 82.5 L544.1 82.5 L546.8 79.2 L549.6 78.1 L552.3 78.4 L555.0 78.1 L557.8 77.1 L560.5 77.6 L563.2 78.9 L566.0 80.4 L568.7 80.9" stroke="#c80000"/>
<path d="M66.0 84.3 L68.7 80.6 L71.5 78.2 L74.2 75.6 L76.9 80.6 L79.7 90.5 L82.4 101.6 L85.1 114.6 L87.9 126.4 L90.6 142.0 L93.3 159.5 L96.1 179.5 L98.8 200.9 L101.5 222.7 L104.2 246.1 L107.0 260.4 L109.7 265.6 L112.4 264.0 L115.2 260.6 L117.9 257.8 L120.6 256.2 L123.4 255.5 L126.1 256.4 L128.8 252.3 L131.6 249.7 L134.3 245.4 L137.0 240.5 L139.8 235.0 L142.5 228.5 L145.2 219.1 L148.0 212.7 L150.7 210.1 L153.4 208.2 L156.2 207.6 L158.9 206.8 L161.6 205.3 L164.4 204.6 L167.1 205.2 L169.8 206.0 L172.5 207.2 L175.3 208.7 L178.0 211.7 L180.7 214.4 L183.5 218.7 L186.2 223.6 L188.9 228.3 L191.7 233.3 L194.4 238.2 L197.1 243.0 L199.9 247.7 L202.6 252.7 L205.3 258.2 L208.1 263.9 L210.8 269.8 L213.5 275.2 L216.3 280.6 L219.0 285.7 L221.7 289.7 L224.5 294.1 L227.2 298.4 L229.9 302.3 L232.7 305.5 L235.4 308.0 L238.1 310.0 L240.8 311.9 L243.6 313.3 L246.3 313.9 L249.0 314.0 L251.8 312.8 L254.5 312.3 L257.2 309.8 L260.0 305.5 L262.7 301.2 L265.4 294.9 L268.2 287.1 L270.9 278.1 L273.6 268.5 L276.4 258.5 L279.1 248.6 L281.8 239.7 L284.6 231.2 L287.3 223.7 L290.0 216.3 L292.8 210.7 L295.5 205.1 L298.2 199.3 L301.0 194.4 L303.7 187.6 L306.4 179.9 L309.1 175.9 L311.9 170.1 L314.6 164.1 L317.3 160.0 L320.1 157.7 L322.8 153.5 L325.5 149.7 L328.3 145.3 L331.0 142.4 L333.7 139.0 L336.5 135.5 L339.2 132.0 L341.9 127.1 L344.7 122.9 L347.4 116.7 L350.1 112.6 L352.9 111.1 L355.6 109.4 L358.3 109.5 L361.1 108.2 L363.8 106.0 L366.5 104.4 L369.3 104.3 L372.0 101.7 L374.7 99.4 L377.4 92.7 L380.2 89.7 L382.9 87.3 L385.6 85.5 L388.4 85.9 L391.1 86.4 L393.8 85.4 L396.6 85.3 L399.3 83.9 L402.0 81.2 L404.8 80.3 L407.5 81.0 L410.2 79.6 L413.0 78.5 L415.7 77.9 L418.4 80.3 L421.2 81.6 L423.9 81.6 L426.6 81.0 L429.4 79.8 L432.1 78.2 L434.8 78.1 L437.6 81.1 L440.3 83.2 L443.0 82.4 L445.7 82.9 L448.5 81.8 L451.2 85.3 L453.9 85.1 L456.7 83.3 L459.4 80.8 L462.1 78.8 L464.9 76.7 L467.6 77.0 L470.3 80.5 L473.1 81.8 L475.8 83.6 L478.5 83.2 L481.3 85.1 L484.0 87.0 L486.7 84.4 L489.5 81.1 L492.2 78.4 L494.9 76.7 L497.7 77.5 L500.4 78.9 L503.1 79.9 L505.9 80.1 L508.6 79.2 L511.3 79.3 L514.0 79.2 L516.8 81.8 L519.5 83.9 L522.2 81.7 L525.0 83.0 L527.7 83.9 L530.4 84.5 L533.2 84.3 L535.9 82.8 L538.6 82.9 L541.4 83.7 L544.1 80.9 L546.8 80.0 L549.6 79.8 L552.3 79.7 L555.0 77.4 L557.8 77.0 L560.5 77.8 L563.2 76.8 L566.0 79.4 L568.7 82.9" stroke="#a00000"/>
<path d="M66.0 83.6 L68.7 85.6 L71.5 87.1 L74.2 87.1 L76.9 87.3 L79.7 89.3 L82.4 93.4 L85.1 97.6 L87.9 105.0 L90.6 126.3 L93.3 148.9 L96.1 165.4 L98.8 188.8 L101.5 206.3 L104.2 219.8 L107.0 226.4 L109.7 232.3 L112.4 237.5 L115.2 242.8 L117.9 245.2 L120.6 249.4 L123.4 251.1 L126.1 249.5 L128.8 246.2 L131.6 244.0 L134.3 242.5 L137.0 240.7 L139.8 237.8 L142.5 232.9 L145.2 222.8 L148.0 212.7 L150.7 210.2 L153.4 217.8 L156.2 211.7 L158.9 207.8 L161.6 206.9 L164.4 205.4 L167.1 205.9 L169.8 206.7 L172.5 206.8 L175.3 208.0 L178.0 208.6 L180.7 210.9 L183.5 215.8 L186.2 222.3 L188.9 227.2 L191.7 229.9 L194.4 230.8 L197.1 232.6 L199.9 233.6 L202.6 236.6 L205.3 243.4 L208.1 251.2 L210.8 258.9 L213.5 267.2 L216.3 274.9 L219.0 280.1 L221.7 286.4 L224.5 290.2 L227.2 294.0 L229.9 297.8 L232.7 301.0 L235.4 304.4 L238.1 306.5 L240.8 308.9 L243.6 310.7 L246.3 313.6 L249.0 315.5 L251.8 314.7 L254.5 313.7 L257.2 311.8 L260.0 308.7 L262.7 303.5 L265.4 296.7 L268.2 288.9 L270.9 279.4 L273.6 268.4 L276.4 258.1 L279.1 251.2 L281.8 245.1 L284.6 238.6 L287.3 232.4 L290.0 225.7 L292.8 220.6 L295.5 214.8 L298.2 209.6 L301.0 203.4 L303.7 197.9 L306.4 192.7 L309.1 177.5 L311.9 171.4 L314.6 169.5 L317.3 168.6 L320.1 166.6 L322.8 161.2 L325.5 156.9 L328.3 151.8 L331.0 148.8 L333.7 149.0 L336.5 148.9 L339.2 147.1 L341.9 143.7 L344.7 136.2 L347.4 127.3 L350.1 120.3 L352.9 115.6 L355.6 114.4 L358.3 114.7 L361.1 113.9 L363.8 113.8 L366.5 111.2 L369.3 109.7 L372.0 107.9 L374.7 104.1 L377.4 101.9 L380.2 98.9 L382.9 95.4 L385.6 93.3 L388.4 90.8 L391.1 88.1 L393.8 88.4 L396.6 86.7 L399.3 83.8 L402.0 83.2 L404.8 86.2 L407.5 84.5 L410.2 83.6 L413.0 79.8 L415.7 77.1 L418.4 78.5 L421.2 81.7 L423.9 80.3 L426.6 79.6 L429.4 77.2 L432.1 78.5 L434.8 80.1 L437.6 81.3 L440.3 80.7 L443.0 79.8 L445.7 78.4 L448.5 76.7 L451.2 77.9 L453.9 80.4 L456.7 79.7 L459.4 78.7 L462.1 75.5 L464.9 74.1 L467.6 76.5 L470.3 76.9 L473.1 77.2 L475.8 78.4 L478.5 80.7 L481.3 79.7 L484.0 79.5 L486.7 80.9 L489.5 78.6 L492.2 77.6 L494.9 76.1 L497.7 78.0 L500.4 77.0 L503.1 75.9 L505.9 76.6 L508.6 79.4 L511.3 82.1 L514.0 81.3 L516.8 79.4 L519.5 78.1 L522.2 78.6 L525.0 79.7 L527.7 81.5 L530.4 81.2 L533.2 81.5 L535.9 82.8 L538.6 81.5 L541.4 80.9 L544.1 79.8 L546.8 79.5 L549.6 79.1 L552.3 79.3 L555.0 76.7 L557.8 75.9 L560.5 75.5 L563.2 77.4 L566.0 76.1 L568.7 79.9" stroke="#7c0000"/>
</g>
<path d="M66 81.9 H571.3" stroke="#111" stroke-width="1.6" fill="none"/>
<path d="M61.3 10.05 H65.8 V417.2 H571.3" fill="none" stroke="#111" stroke-width="1.5"/>
<path d="M57.3 417.2 H65.8 M57.3 369.3 H65.8 M57.3 321.4 H65.8 M57.3 273.5 H65.8 M57.3 225.6 H65.8 M57.3 177.7 H65.8 M57.3 129.8 H65.8 M57.3 81.9 H65.8 M57.3 34.0 H65.8 M61.3 393.2 H65.8 M61.3 345.4 H65.8 M61.3 297.4 H65.8 M61.3 249.6 H65.8 M61.3 201.7 H65.8 M61.3 153.8 H65.8 M61.3 105.9 H65.8 M61.3 58.0 H65.8 M160.8 417.2 V425.4 M297.4 417.2 V425.4 M434.0 417.2 V425.4 M570.6 417.2 V425.4 M92.5 417.2 V421.7 M229.1 417.2 V421.7 M365.7 417.2 V421.7 M502.3 417.2 V421.7" fill="none" stroke="#111" stroke-width="1.4"/>
<g class="tk">
<text x="52.5" y="423.4" text-anchor="end">-7</text>
<text x="52.5" y="375.5" text-anchor="end">-6</text>
<text x="52.5" y="327.6" text-anchor="end">-5</text>
<text x="52.5" y="279.7" text-anchor="end">-4</text>
<text x="52.5" y="231.8" text-anchor="end">-3</text>
<text x="52.5" y="183.9" text-anchor="end">-2</text>
<text x="52.5" y="136.0" text-anchor="end">-1</text>
<text x="52.5" y="88.1" text-anchor="end">0</text>
<text x="52.5" y="40.2" text-anchor="end">1</text>
<text x="160.8" y="444.6" text-anchor="middle">250</text>
<text x="297.4" y="444.6" text-anchor="middle">300</text>
<text x="434.0" y="444.6" text-anchor="middle">350</text>
<text x="570.6" y="444.6" text-anchor="middle">400</text>
</g>
<ellipse cx="172" cy="192" rx="28.5" ry="55.5" fill="none" stroke="#0a0a0a" stroke-width="3"/>
<g stroke="#0a0a0a" stroke-width="3" fill="#0a0a0a" stroke-linecap="butt">
<path d="M266.8 3.4 L310.2 48.3" fill="none"/>
<path d="M315 53.3 L303.4 48.9 L310.6 41.9 Z" stroke="none"/>
<path d="M236.2 382.4 L262.2 319.6" fill="none"/>
<path d="M264.6 313.6 L266.2 325.4 L257.6 321.8 Z" stroke="none"/>
</g>
<text x="291" y="479.4" font-size="21.5"><tspan class="ser" font-size="22">λ</tspan> [nm]</text>
<text transform="translate(24 331) rotate(-90)" font-size="22" letter-spacing="0.2"><tspan class="ser" font-size="21">Θ</tspan><tspan class="ser" font-size="14.5" dy="4.5">m</tspan><tspan dy="-4.5"> [10</tspan><tspan font-size="14.5" dy="-9.5">5</tspan><tspan dy="9.5"> deg cm</tspan><tspan font-size="14.5" dy="-9.5">2</tspan><tspan dy="9.5"> dmol</tspan><tspan font-size="14.5" dy="-9.5">-1</tspan><tspan dy="9.5">]</tspan></text>
<g class="lg">
<path d="M352 314.7 H396" stroke="#860090" stroke-width="2.1"/>
<path d="M352 340.4 H396" stroke="#8cf020" stroke-width="2.1"/>
<path d="M352 366.5 H396" stroke="#ffb400" stroke-width="2.1"/>
<path d="M352 393.2 H396" stroke="#8a1c1c" stroke-width="2.1"/>
<text x="400.5" y="321">0 Ag<tspan font-size="11.5" dy="-7">+</tspan><tspan dy="7"> per duplex</tspan></text>
<text x="400.5" y="346.8">12 Ag<tspan font-size="11.5" dy="-7">+</tspan><tspan dy="7"> per duplex</tspan></text>
<text x="400.5" y="372.8">36 Ag<tspan font-size="11.5" dy="-7">+</tspan><tspan dy="7"> per duplex</tspan></text>
<text x="400.5" y="399.5">120 Ag<tspan font-size="11.5" dy="-7">+</tspan><tspan dy="7"> per duplex</tspan></text>
</g>
<g fill="none" stroke="#0a0a0a" stroke-width="2.4" stroke-linecap="round">
<path d="M584.6 314 C594 314.5 598.5 319 597.6 324.5 C596.8 329.5 592.5 333 588.2 334.6"/>
<path d="M584.6 340.3 C594 340.8 598.5 345.3 597.6 350.8 C596.8 355.8 592.5 359.3 588.2 360.9"/>
<path d="M585.6 369.6 C595 370.1 599.5 374.6 598.6 380.1 C597.8 385.1 593.5 388.6 589.2 390.2"/>
</g>
<g fill="#0a0a0a">
<path d="M585.2 336.6 L590.6 331.2 L591.6 337.2 Z"/>
<path d="M585.2 362.9 L590.6 357.5 L591.6 363.5 Z"/>
<path d="M586.2 392.2 L591.6 386.8 L592.6 392.8 Z"/>
</g>
<g class="st">
<text x="600.8" y="327.7" textLength="72" lengthAdjust="spacing">1 Ag<tspan font-size="8.5" dy="-4.5">+</tspan><tspan dy="4.5"> steps</tspan></text>
<text x="602.9" y="355.9" textLength="75" lengthAdjust="spacing">6  Ag<tspan font-size="8.5" dy="-4.5">+</tspan><tspan dy="4.5"> steps</tspan></text>
<text x="600.8" y="383.2" textLength="81" lengthAdjust="spacing">12 Ag<tspan font-size="8.5" dy="-4.5">+</tspan><tspan dy="4.5"> steps</tspan></text>
</g>
</svg>
</body></html>
